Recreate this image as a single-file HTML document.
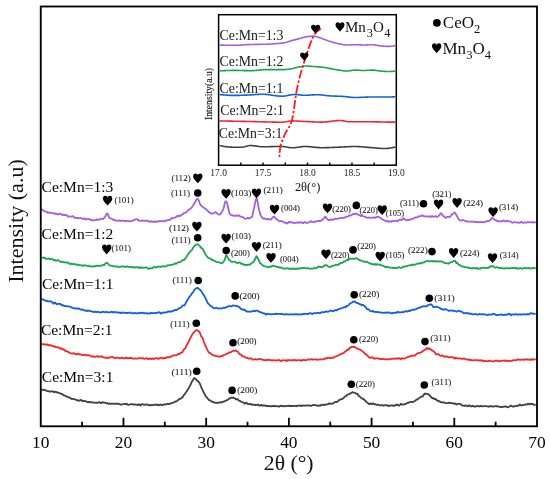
<!DOCTYPE html><html><head><meta charset="utf-8"><title>XRD patterns</title><style>html,body{margin:0;padding:0;background:#fff;overflow:hidden;}svg{display:block;}text{font-family:'Liberation Serif','Times New Roman',serif;}</style></head><body>
<svg width="550" height="479" viewBox="0 0 550 479">
<rect width="550" height="479" fill="#fff"/>
<polyline points="41.5,208.83 42.2,209.54 42.9,209.87 43.6,210.72 44.3,211.07 45.0,211.40 45.7,211.87 46.4,211.66 47.1,212.06 47.8,212.76 48.5,212.50 49.2,212.43 49.9,212.81 50.6,212.90 51.3,212.85 52.0,212.70 52.7,213.01 53.4,213.49 54.1,213.54 54.8,213.27 55.5,213.70 56.2,214.20 56.9,213.84 57.6,214.39 58.3,214.58 59.0,213.87 59.7,213.90 60.4,213.82 61.1,214.28 61.8,214.85 62.5,214.56 63.2,215.04 63.9,214.97 64.6,214.98 65.3,215.03 66.0,214.89 66.7,215.24 67.4,215.88 68.1,216.73 68.8,216.46 69.5,216.38 70.2,216.56 70.9,216.64 71.6,216.65 72.3,216.25 73.0,216.13 73.7,216.75 74.4,217.84 75.1,217.95 75.8,217.43 76.5,217.94 77.2,218.25 77.9,217.96 78.6,218.09 79.3,218.15 80.0,218.14 80.7,217.95 81.4,218.26 82.1,218.68 82.8,218.95 83.5,218.98 84.2,218.35 84.9,218.51 85.6,219.46 86.3,219.50 87.0,219.00 87.7,218.91 88.4,218.97 89.1,219.27 89.8,219.33 90.5,219.83 91.2,220.12 91.9,219.85 92.6,220.30 93.3,220.67 94.0,220.30 94.7,220.03 95.4,220.22 96.1,220.04 96.8,219.37 97.5,219.47 98.2,219.99 98.9,219.81 99.6,219.25 100.3,218.98 101.0,218.93 101.7,218.74 102.4,218.97 103.1,219.12 103.8,218.40 104.5,217.38 105.2,216.54 105.9,215.26 106.6,213.98 107.3,213.32 108.0,214.20 108.7,216.49 109.4,217.80 110.1,218.11 110.8,218.48 111.5,218.75 112.2,219.26 112.9,219.81 113.6,219.59 114.3,219.75 115.0,220.05 115.7,220.36 116.4,220.61 117.1,220.76 117.8,220.69 118.5,220.29 119.2,220.54 119.9,220.91 120.6,221.04 121.3,220.55 122.0,220.51 122.7,220.85 123.4,220.75 124.1,220.63 124.8,221.17 125.5,221.26 126.2,220.67 126.9,220.93 127.6,221.17 128.3,221.01 129.0,221.17 129.7,221.28 130.4,221.14 131.1,221.18 131.8,221.07 132.5,220.60 133.2,220.33 133.9,220.11 134.6,219.92 135.3,219.51 136.0,218.92 136.7,219.34 137.4,219.82 138.1,219.73 138.8,220.40 139.5,220.76 140.2,220.83 140.9,220.90 141.6,220.55 142.3,220.40 143.0,220.57 143.7,220.82 144.4,220.77 145.1,220.80 145.8,220.67 146.5,220.77 147.2,220.74 147.9,220.72 148.6,221.34 149.3,221.68 150.0,221.95 150.7,221.35 151.4,221.16 152.1,221.84 152.8,221.91 153.5,221.43 154.2,221.32 154.9,222.00 155.6,221.56 156.3,221.25 157.0,221.87 157.7,221.60 158.4,221.47 159.1,221.36 159.8,220.99 160.5,221.00 161.2,221.17 161.9,221.26 162.6,221.35 163.3,221.05 164.0,220.69 164.7,221.02 165.4,221.07 166.1,220.41 166.8,220.27 167.5,220.27 168.2,219.98 168.9,219.94 169.6,219.89 170.3,219.61 171.0,218.62 171.7,217.99 172.4,218.30 173.1,218.25 173.8,218.04 174.5,217.86 175.2,217.12 175.9,217.04 176.6,216.78 177.3,215.82 178.0,216.28 178.7,216.10 179.4,215.54 180.1,215.97 180.8,215.60 181.5,214.68 182.2,214.54 182.9,214.18 183.6,213.17 184.3,212.93 185.0,212.92 185.7,212.57 186.4,212.08 187.1,211.42 187.8,210.69 188.5,210.01 189.2,209.41 189.9,209.21 190.6,208.56 191.3,207.82 192.0,206.96 192.7,205.83 193.4,204.93 194.1,203.88 194.8,202.82 195.5,201.34 196.2,199.99 196.9,198.92 197.6,198.69 198.3,199.62 199.0,201.08 199.7,203.05 200.4,204.58 201.1,205.38 201.8,206.38 202.5,206.89 203.2,207.08 203.9,207.79 204.6,208.31 205.3,208.53 206.0,209.20 206.7,209.93 207.4,210.48 208.1,211.13 208.8,212.12 209.5,212.65 210.2,212.47 210.9,213.08 211.6,213.72 212.3,213.68 213.0,213.28 213.7,213.06 214.4,212.82 215.1,212.25 215.8,212.18 216.5,212.70 217.2,213.65 217.9,214.21 218.6,214.56 219.3,214.51 220.0,214.37 220.7,213.87 221.4,212.86 222.1,211.64 222.8,210.20 223.5,208.54 224.2,205.73 224.9,202.28 225.6,201.17 226.3,201.93 227.0,202.59 227.7,205.48 228.4,208.77 229.1,211.86 229.8,213.83 230.5,214.48 231.2,215.07 231.9,215.50 232.6,215.23 233.3,215.43 234.0,215.96 234.7,215.81 235.4,215.59 236.1,215.26 236.8,215.64 237.5,216.11 238.2,215.46 238.9,215.26 239.6,215.80 240.3,216.51 241.0,216.73 241.7,216.97 242.4,217.11 243.1,217.09 243.8,217.92 244.5,218.64 245.2,218.59 245.9,218.78 246.6,218.48 247.3,217.93 248.0,218.21 248.7,218.53 249.4,218.09 250.1,217.87 250.8,217.60 251.5,217.12 252.2,216.78 252.9,213.54 253.6,209.64 254.3,206.97 255.0,203.47 255.7,200.17 256.4,198.81 257.1,199.47 257.8,202.59 258.5,207.19 259.2,210.21 259.9,212.88 260.6,215.24 261.3,216.32 262.0,217.13 262.7,218.41 263.4,218.71 264.1,218.13 264.8,218.58 265.5,219.12 266.2,219.27 266.9,219.05 267.6,218.84 268.3,219.28 269.0,219.60 269.7,219.10 270.4,219.31 271.1,219.48 271.8,218.63 272.5,217.55 273.2,216.78 273.9,216.59 274.6,216.99 275.3,218.16 276.0,218.76 276.7,219.35 277.4,219.84 278.1,220.10 278.8,220.68 279.5,221.37 280.2,221.39 280.9,220.85 281.6,221.14 282.3,221.38 283.0,221.55 283.7,222.04 284.4,222.46 285.1,222.84 285.8,222.54 286.5,222.82 287.2,223.51 287.9,222.89 288.6,221.93 289.3,222.00 290.0,222.59 290.7,222.11 291.4,222.14 292.1,222.66 292.8,222.49 293.5,222.70 294.2,223.14 294.9,222.90 295.6,222.73 296.3,222.70 297.0,222.46 297.7,222.63 298.4,222.94 299.1,222.78 299.8,222.12 300.5,222.38 301.2,222.50 301.9,222.37 302.6,223.14 303.3,223.08 304.0,222.36 304.7,221.98 305.4,222.50 306.1,222.81 306.8,222.62 307.5,222.80 308.2,222.62 308.9,222.29 309.6,222.03 310.3,221.33 311.0,221.14 311.7,221.77 312.4,222.00 313.1,222.01 313.8,221.91 314.5,221.74 315.2,221.83 315.9,221.47 316.6,221.09 317.3,220.79 318.0,220.96 318.7,221.21 319.4,220.94 320.1,221.12 320.8,221.05 321.5,220.44 322.2,220.05 322.9,219.29 323.6,218.68 324.3,218.14 325.0,216.72 325.7,216.80 326.4,217.98 327.1,218.91 327.8,219.49 328.5,219.94 329.2,220.44 329.9,220.00 330.6,219.30 331.3,219.41 332.0,219.91 332.7,219.78 333.4,219.36 334.1,219.47 334.8,218.88 335.5,218.51 336.2,218.74 336.9,218.88 337.6,218.92 338.3,218.47 339.0,218.43 339.7,218.21 340.4,218.14 341.1,218.16 341.8,217.91 342.5,217.73 343.2,217.85 343.9,217.81 344.6,217.50 345.3,217.41 346.0,216.84 346.7,216.60 347.4,216.60 348.1,216.25 348.8,215.80 349.5,215.34 350.2,215.35 350.9,215.70 351.6,215.02 352.3,214.30 353.0,214.10 353.7,213.91 354.4,213.99 355.1,214.12 355.8,213.58 356.5,213.49 357.2,214.24 357.9,214.64 358.6,214.91 359.3,214.96 360.0,215.44 360.7,216.18 361.4,215.49 362.1,215.13 362.8,216.05 363.5,216.34 364.2,216.53 364.9,216.66 365.6,216.78 366.3,217.38 367.0,217.95 367.7,217.89 368.4,217.51 369.1,217.56 369.8,217.74 370.5,217.87 371.2,217.96 371.9,217.67 372.6,217.66 373.3,217.48 374.0,217.57 374.7,218.06 375.4,217.51 376.1,217.15 376.8,216.85 377.5,216.67 378.2,216.96 378.9,216.88 379.6,217.44 380.3,218.05 381.0,218.25 381.7,218.71 382.4,219.28 383.1,219.67 383.8,220.05 384.5,220.27 385.2,220.70 385.9,221.34 386.6,221.26 387.3,220.86 388.0,221.27 388.7,221.93 389.4,221.73 390.1,221.14 390.8,221.21 391.5,221.83 392.2,221.27 392.9,220.96 393.6,221.25 394.3,220.87 395.0,220.98 395.7,220.79 396.4,220.66 397.1,221.20 397.8,221.08 398.5,220.46 399.2,219.89 399.9,219.66 400.6,219.50 401.3,220.00 402.0,220.08 402.7,218.97 403.4,218.37 404.1,218.57 404.8,219.47 405.5,219.82 406.2,220.25 406.9,220.28 407.6,219.60 408.3,219.72 409.0,220.10 409.7,220.18 410.4,219.55 411.1,219.11 411.8,219.06 412.5,218.93 413.2,218.75 413.9,218.20 414.6,217.65 415.3,217.70 416.0,217.46 416.7,217.47 417.4,217.48 418.1,216.64 418.8,216.29 419.5,216.19 420.2,216.05 420.9,216.26 421.6,215.89 422.3,215.23 423.0,215.69 423.7,216.16 424.4,216.20 425.1,216.45 425.8,216.47 426.5,216.65 427.2,216.57 427.9,216.46 428.6,216.51 429.3,216.24 430.0,216.57 430.7,216.96 431.4,216.35 432.1,215.93 432.8,216.43 433.5,216.91 434.2,216.65 434.9,216.31 435.6,216.09 436.3,216.67 437.0,217.00 437.7,216.37 438.4,216.08 439.1,215.63 439.8,214.66 440.5,213.43 441.2,213.24 441.9,214.09 442.6,215.36 443.3,216.02 444.0,216.21 444.7,217.06 445.4,217.75 446.1,217.61 446.8,217.07 447.5,216.88 448.2,216.77 448.9,217.06 449.6,217.10 450.3,216.48 451.0,215.78 451.7,214.76 452.4,214.13 453.1,213.73 453.8,212.90 454.5,212.37 455.2,213.14 455.9,214.25 456.6,215.55 457.3,216.82 458.0,218.04 458.7,219.26 459.4,220.01 460.1,220.62 460.8,220.65 461.5,220.35 462.2,220.28 462.9,219.95 463.6,219.91 464.3,220.55 465.0,220.77 465.7,221.00 466.4,221.68 467.1,221.42 467.8,221.53 468.5,221.71 469.2,221.65 469.9,221.60 470.6,221.63 471.3,221.52 472.0,221.51 472.7,221.69 473.4,221.58 474.1,221.90 474.8,222.04 475.5,221.93 476.2,222.11 476.9,222.36 477.6,221.90 478.3,221.87 479.0,222.38 479.7,222.08 480.4,222.01 481.1,221.87 481.8,222.09 482.5,222.31 483.2,221.91 483.9,222.19 484.6,222.11 485.3,221.89 486.0,221.58 486.7,221.21 487.4,221.01 488.1,220.93 488.8,221.08 489.5,220.60 490.2,219.97 490.9,219.18 491.6,218.22 492.3,218.00 493.0,218.43 493.7,218.99 494.4,219.32 495.1,219.92 495.8,220.43 496.5,220.49 497.2,221.01 497.9,221.01 498.6,220.86 499.3,221.46 500.0,221.49 500.7,221.29 501.4,221.12 502.1,221.42 502.8,221.03 503.5,220.30 504.2,220.59 504.9,221.23 505.6,221.56 506.3,221.12 507.0,220.74 507.7,220.94 508.4,221.42 509.1,221.39 509.8,221.26 510.5,221.43 511.2,222.07 511.9,222.59 512.6,222.67 513.3,222.58 514.0,222.15 514.7,222.20 515.4,222.37 516.1,222.37 516.8,222.72 517.5,222.55 518.2,222.20 518.9,222.59 519.6,222.92 520.3,222.53 521.0,221.74 521.7,221.88 522.4,222.74 523.1,223.01 523.8,222.70 524.5,222.29 525.2,222.34 525.9,222.69 526.6,222.51 527.3,222.27 528.0,222.30 528.7,222.37 529.4,222.19 530.1,222.19 530.8,222.40 531.5,222.22 532.2,222.42 532.9,222.70 533.6,222.13 534.3,222.05 535.0,222.53 535.7,222.18" fill="none" stroke="#a35fe0" stroke-width="1.8" stroke-linejoin="round"/>
<polyline points="41.5,257.33 42.2,257.72 42.9,257.85 43.6,257.83 44.3,257.48 45.0,258.06 45.7,258.91 46.4,258.93 47.1,258.80 47.8,258.70 48.5,258.35 49.2,258.56 49.9,259.37 50.6,259.15 51.3,258.85 52.0,259.00 52.7,259.30 53.4,260.10 54.1,259.95 54.8,259.82 55.5,260.58 56.2,260.82 56.9,260.39 57.6,260.27 58.3,260.25 59.0,260.89 59.7,261.34 60.4,261.56 61.1,262.09 61.8,261.85 62.5,261.68 63.2,262.16 63.9,262.47 64.6,262.50 65.3,262.24 66.0,262.53 66.7,262.86 67.4,262.28 68.1,262.48 68.8,263.24 69.5,264.00 70.2,263.95 70.9,263.30 71.6,264.00 72.3,264.46 73.0,264.03 73.7,263.85 74.4,263.80 75.1,264.49 75.8,264.77 76.5,264.41 77.2,264.46 77.9,265.04 78.6,265.12 79.3,265.00 80.0,265.29 80.7,265.29 81.4,265.11 82.1,265.29 82.8,265.94 83.5,265.85 84.2,265.34 84.9,265.13 85.6,265.46 86.3,265.78 87.0,265.79 87.7,265.93 88.4,265.69 89.1,265.94 89.8,266.39 90.5,266.26 91.2,266.31 91.9,266.59 92.6,266.58 93.3,266.20 94.0,266.47 94.7,266.57 95.4,266.09 96.1,265.76 96.8,265.82 97.5,265.82 98.2,265.56 98.9,265.77 99.6,265.77 100.3,265.80 101.0,265.78 101.7,265.37 102.4,265.14 103.1,265.01 103.8,265.08 104.5,264.83 105.2,263.74 105.9,263.10 106.6,262.93 107.3,263.10 108.0,263.58 108.7,264.56 109.4,265.32 110.1,265.50 110.8,265.58 111.5,265.58 112.2,265.80 112.9,266.19 113.6,266.33 114.3,266.32 115.0,266.30 115.7,266.46 116.4,266.67 117.1,266.46 117.8,266.62 118.5,267.01 119.2,267.05 119.9,266.87 120.6,266.66 121.3,266.45 122.0,266.69 122.7,266.49 123.4,266.25 124.1,266.68 124.8,266.99 125.5,267.08 126.2,266.69 126.9,266.38 127.6,266.46 128.3,266.83 129.0,267.04 129.7,266.99 130.4,266.85 131.1,266.87 131.8,267.27 132.5,267.09 133.2,266.89 133.9,267.53 134.6,267.67 135.3,267.21 136.0,267.26 136.7,267.21 137.4,267.08 138.1,267.63 138.8,268.08 139.5,267.36 140.2,267.11 140.9,267.98 141.6,267.72 142.3,267.37 143.0,267.87 143.7,267.74 144.4,267.56 145.1,267.74 145.8,267.29 146.5,267.49 147.2,267.99 147.9,268.22 148.6,268.82 149.3,268.82 150.0,268.27 150.7,268.20 151.4,268.28 152.1,268.33 152.8,267.86 153.5,267.23 154.2,266.96 154.9,267.23 155.6,267.56 156.3,267.14 157.0,266.85 157.7,266.75 158.4,266.60 159.1,266.56 159.8,266.57 160.5,266.87 161.2,266.97 161.9,266.37 162.6,266.07 163.3,266.44 164.0,266.59 164.7,266.29 165.4,266.25 166.1,266.45 166.8,265.90 167.5,265.27 168.2,265.05 168.9,265.22 169.6,265.41 170.3,264.99 171.0,264.74 171.7,264.86 172.4,264.80 173.1,264.29 173.8,264.38 174.5,264.02 175.2,263.19 175.9,263.77 176.6,263.72 177.3,262.73 178.0,262.37 178.7,262.18 179.4,262.22 180.1,262.10 180.8,261.71 181.5,261.11 182.2,260.27 182.9,259.98 183.6,260.21 184.3,259.86 185.0,258.83 185.7,257.97 186.4,256.99 187.1,255.79 187.8,254.57 188.5,253.50 189.2,252.85 189.9,251.90 190.6,251.05 191.3,250.56 192.0,249.79 192.7,248.41 193.4,247.11 194.1,246.26 194.8,245.54 195.5,245.01 196.2,244.70 196.9,244.31 197.6,244.23 198.3,244.63 199.0,245.21 199.7,245.71 200.4,246.80 201.1,247.96 201.8,248.18 202.5,248.62 203.2,249.69 203.9,251.06 204.6,252.70 205.3,254.08 206.0,255.04 206.7,256.04 207.4,256.96 208.1,257.66 208.8,258.11 209.5,258.41 210.2,258.34 210.9,258.72 211.6,259.89 212.3,260.14 213.0,259.93 213.7,260.62 214.4,261.10 215.1,261.04 215.8,261.64 216.5,262.10 217.2,262.10 217.9,262.02 218.6,262.13 219.3,262.51 220.0,262.72 220.7,263.01 221.4,263.18 222.1,262.99 222.8,262.77 223.5,261.76 224.2,260.70 224.9,259.45 225.6,256.65 226.3,255.25 227.0,256.27 227.7,257.63 228.4,258.72 229.1,259.97 229.8,260.42 230.5,260.79 231.2,261.46 231.9,261.84 232.6,261.95 233.3,261.76 234.0,261.53 234.7,261.56 235.4,261.87 236.1,262.62 236.8,262.95 237.5,262.92 238.2,263.07 238.9,262.50 239.6,262.33 240.3,262.80 241.0,263.34 241.7,264.07 242.4,263.89 243.1,263.80 243.8,264.62 244.5,265.05 245.2,264.94 245.9,264.84 246.6,265.08 247.3,264.87 248.0,264.73 248.7,264.73 249.4,264.40 250.1,264.49 250.8,263.89 251.5,263.01 252.2,262.85 252.9,262.32 253.6,261.47 254.3,260.89 255.0,259.45 255.7,257.36 256.4,256.10 257.1,256.80 257.8,258.55 258.5,259.65 259.2,260.99 259.9,262.89 260.6,263.57 261.3,264.03 262.0,264.96 262.7,265.49 263.4,265.69 264.1,266.21 264.8,266.29 265.5,266.29 266.2,266.61 266.9,266.86 267.6,267.20 268.3,267.38 269.0,266.96 269.7,266.38 270.4,266.70 271.1,266.75 271.8,266.19 272.5,265.75 273.2,265.90 273.9,266.17 274.6,266.14 275.3,266.27 276.0,266.48 276.7,266.97 277.4,266.94 278.1,266.90 278.8,267.41 279.5,267.51 280.2,267.40 280.9,267.64 281.6,267.73 282.3,268.16 283.0,268.31 283.7,268.39 284.4,268.87 285.1,268.46 285.8,268.30 286.5,268.50 287.2,268.26 287.9,268.32 288.6,268.55 289.3,268.82 290.0,269.13 290.7,268.73 291.4,268.42 292.1,268.81 292.8,269.18 293.5,268.51 294.2,268.53 294.9,269.05 295.6,269.10 296.3,269.02 297.0,268.44 297.7,268.52 298.4,268.94 299.1,268.91 299.8,268.07 300.5,268.20 301.2,268.36 301.9,267.96 302.6,268.05 303.3,267.84 304.0,267.81 304.7,267.99 305.4,268.13 306.1,268.33 306.8,268.38 307.5,268.03 308.2,268.05 308.9,268.59 309.6,268.81 310.3,268.57 311.0,268.43 311.7,268.53 312.4,268.62 313.1,268.71 313.8,268.23 314.5,267.68 315.2,267.99 315.9,268.31 316.6,268.22 317.3,267.23 318.0,266.73 318.7,266.45 319.4,266.60 320.1,267.30 320.8,267.08 321.5,266.95 322.2,267.13 322.9,266.88 323.6,266.30 324.3,265.87 325.0,265.24 325.7,265.10 326.4,265.31 327.1,265.42 327.8,266.08 328.5,266.90 329.2,266.83 329.9,266.80 330.6,266.95 331.3,266.37 332.0,265.96 332.7,265.97 333.4,265.58 334.1,265.53 334.8,265.31 335.5,264.90 336.2,264.92 336.9,264.87 337.6,264.63 338.3,264.79 339.0,264.30 339.7,263.53 340.4,263.05 341.1,262.77 341.8,262.99 342.5,262.83 343.2,262.11 343.9,261.46 344.6,261.55 345.3,261.21 346.0,260.75 346.7,260.16 347.4,259.88 348.1,259.99 348.8,259.48 349.5,258.83 350.2,258.53 350.9,258.70 351.6,258.80 352.3,258.74 353.0,258.63 353.7,258.69 354.4,259.06 355.1,258.59 355.8,258.05 356.5,258.32 357.2,258.68 357.9,258.88 358.6,259.43 359.3,260.13 360.0,260.22 360.7,260.31 361.4,260.65 362.1,261.07 362.8,261.33 363.5,261.34 364.2,261.65 364.9,261.71 365.6,262.08 366.3,261.93 367.0,261.73 367.7,262.38 368.4,262.90 369.1,263.03 369.8,263.44 370.5,263.58 371.2,263.77 371.9,264.35 372.6,263.99 373.3,264.09 374.0,264.67 374.7,264.86 375.4,263.92 376.1,264.07 376.8,264.72 377.5,264.17 378.2,264.39 378.9,264.59 379.6,264.58 380.3,265.06 381.0,265.07 381.7,265.40 382.4,265.57 383.1,265.74 383.8,266.11 384.5,266.26 385.2,267.03 385.9,267.25 386.6,266.71 387.3,266.81 388.0,267.03 388.7,267.20 389.4,267.54 390.1,267.66 390.8,267.73 391.5,267.65 392.2,267.77 392.9,268.15 393.6,267.90 394.3,267.64 395.0,267.79 395.7,268.08 396.4,268.31 397.1,267.84 397.8,267.60 398.5,267.41 399.2,267.15 399.9,267.48 400.6,267.81 401.3,267.92 402.0,267.54 402.7,266.81 403.4,266.75 404.1,266.78 404.8,266.53 405.5,266.36 406.2,266.20 406.9,266.11 407.6,265.98 408.3,265.57 409.0,265.46 409.7,265.31 410.4,264.97 411.1,265.39 411.8,265.32 412.5,264.50 413.2,264.63 413.9,264.99 414.6,264.77 415.3,264.45 416.0,264.13 416.7,263.89 417.4,263.51 418.1,263.78 418.8,263.71 419.5,263.11 420.2,262.94 420.9,263.33 421.6,263.48 422.3,262.79 423.0,262.37 423.7,262.34 424.4,262.31 425.1,261.58 425.8,261.35 426.5,261.45 427.2,260.91 427.9,260.74 428.6,261.00 429.3,261.49 430.0,261.37 430.7,261.16 431.4,261.01 432.1,261.09 432.8,261.57 433.5,261.21 434.2,260.99 434.9,261.59 435.6,261.35 436.3,261.11 437.0,261.64 437.7,261.31 438.4,261.04 439.1,261.39 439.8,261.63 440.5,261.27 441.2,261.28 441.9,261.63 442.6,261.71 443.3,262.25 444.0,262.59 444.7,263.04 445.4,263.10 446.1,263.03 446.8,263.25 447.5,263.42 448.2,263.76 448.9,263.27 449.6,262.80 450.3,262.69 451.0,262.04 451.7,262.17 452.4,261.99 453.1,261.24 453.8,261.05 454.5,260.84 455.2,260.88 455.9,262.17 456.6,263.08 457.3,262.89 458.0,263.69 458.7,264.57 459.4,264.83 460.1,265.23 460.8,265.83 461.5,266.20 462.2,266.55 462.9,266.62 463.6,266.52 464.3,266.87 465.0,267.15 465.7,267.38 466.4,267.39 467.1,267.26 467.8,267.23 468.5,267.82 469.2,268.14 469.9,268.12 470.6,268.24 471.3,268.27 472.0,268.64 472.7,268.18 473.4,267.95 474.1,267.91 474.8,268.26 475.5,268.55 476.2,267.85 476.9,267.77 477.6,268.42 478.3,268.90 479.0,268.87 479.7,268.32 480.4,267.97 481.1,268.50 481.8,268.33 482.5,267.83 483.2,267.73 483.9,267.48 484.6,267.92 485.3,268.26 486.0,268.01 486.7,267.91 487.4,267.95 488.1,268.07 488.8,267.65 489.5,266.96 490.2,266.43 490.9,266.50 491.6,266.46 492.3,265.85 493.0,266.05 493.7,266.64 494.4,267.18 495.1,267.68 495.8,267.53 496.5,267.23 497.2,267.43 497.9,267.44 498.6,267.59 499.3,268.07 500.0,268.19 500.7,267.79 501.4,267.58 502.1,268.30 502.8,268.39 503.5,268.30 504.2,268.71 504.9,268.47 505.6,268.10 506.3,268.22 507.0,268.24 507.7,268.16 508.4,268.38 509.1,268.26 509.8,268.18 510.5,268.28 511.2,268.05 511.9,268.07 512.6,268.21 513.3,267.83 514.0,267.90 514.7,268.26 515.4,268.20 516.1,267.79 516.8,268.10 517.5,268.74 518.2,268.71 518.9,268.62 519.6,268.19 520.3,268.14 521.0,268.21 521.7,268.67 522.4,268.75 523.1,268.39 523.8,268.13 524.5,267.68 525.2,267.88 525.9,268.28 526.6,268.49 527.3,268.36 528.0,267.76 528.7,267.91 529.4,268.07 530.1,268.14 530.8,268.73 531.5,268.49 532.2,268.23 532.9,267.70 533.6,268.01 534.3,268.29 535.0,267.86 535.7,267.56" fill="none" stroke="#1aa650" stroke-width="1.8" stroke-linejoin="round"/>
<polyline points="41.5,299.50 42.2,299.21 42.9,299.35 43.6,299.78 44.3,300.07 45.0,300.55 45.7,300.78 46.4,300.72 47.1,300.81 47.8,301.38 48.5,301.44 49.2,301.45 49.9,301.35 50.6,301.11 51.3,301.81 52.0,302.17 52.7,302.94 53.4,303.75 54.1,303.00 54.8,302.45 55.5,302.97 56.2,303.80 56.9,304.30 57.6,304.22 58.3,303.89 59.0,303.85 59.7,303.79 60.4,303.84 61.1,304.69 61.8,305.36 62.5,305.16 63.2,305.17 63.9,305.94 64.6,306.10 65.3,305.83 66.0,306.06 66.7,306.37 67.4,306.39 68.1,306.29 68.8,306.31 69.5,306.58 70.2,306.69 70.9,307.09 71.6,307.54 72.3,307.64 73.0,308.04 73.7,308.30 74.4,308.34 75.1,308.26 75.8,308.10 76.5,308.70 77.2,308.78 77.9,308.34 78.6,308.49 79.3,308.85 80.0,309.31 80.7,309.66 81.4,309.69 82.1,309.26 82.8,309.53 83.5,310.26 84.2,310.34 84.9,310.24 85.6,310.50 86.3,310.98 87.0,310.98 87.7,310.51 88.4,310.54 89.1,310.94 89.8,310.80 90.5,311.12 91.2,311.45 91.9,311.49 92.6,311.78 93.3,311.68 94.0,312.05 94.7,312.04 95.4,311.59 96.1,311.81 96.8,312.17 97.5,312.14 98.2,311.78 98.9,311.95 99.6,312.32 100.3,312.64 101.0,312.49 101.7,312.11 102.4,312.06 103.1,311.71 103.8,311.87 104.5,312.39 105.2,312.18 105.9,311.87 106.6,311.86 107.3,312.31 108.0,312.45 108.7,312.30 109.4,312.28 110.1,312.19 110.8,312.27 111.5,311.77 112.2,311.95 112.9,312.59 113.6,312.15 114.3,312.02 115.0,312.40 115.7,312.23 116.4,312.30 117.1,312.14 117.8,312.27 118.5,312.96 119.2,312.66 119.9,312.42 120.6,313.02 121.3,313.08 122.0,312.69 122.7,312.49 123.4,312.67 124.1,312.86 124.8,312.98 125.5,312.70 126.2,312.82 126.9,313.08 127.6,313.01 128.3,312.96 129.0,312.56 129.7,312.62 130.4,312.71 131.1,312.77 131.8,313.13 132.5,313.45 133.2,313.37 133.9,313.04 134.6,312.91 135.3,313.17 136.0,313.52 136.7,313.33 137.4,313.07 138.1,312.99 138.8,313.07 139.5,313.44 140.2,312.78 140.9,312.63 141.6,313.14 142.3,312.58 143.0,312.77 143.7,313.24 144.4,313.25 145.1,312.97 145.8,313.34 146.5,313.64 147.2,313.10 147.9,313.39 148.6,313.59 149.3,313.42 150.0,313.51 150.7,312.87 151.4,312.96 152.1,313.30 152.8,312.98 153.5,313.23 154.2,312.99 154.9,312.83 155.6,313.12 156.3,313.02 157.0,312.93 157.7,312.56 158.4,312.17 159.1,312.24 159.8,312.54 160.5,313.56 161.2,313.50 161.9,312.63 162.6,312.52 163.3,312.71 164.0,312.83 164.7,312.32 165.4,312.32 166.1,312.50 166.8,312.38 167.5,311.88 168.2,311.29 168.9,311.75 169.6,311.60 170.3,311.45 171.0,311.74 171.7,311.46 172.4,311.20 173.1,310.93 173.8,310.64 174.5,310.18 175.2,309.76 175.9,310.18 176.6,310.15 177.3,309.38 178.0,308.94 178.7,308.37 179.4,308.04 180.1,307.81 180.8,307.61 181.5,307.07 182.2,305.90 182.9,305.42 183.6,305.44 184.3,305.39 185.0,304.67 185.7,303.00 186.4,301.70 187.1,300.60 187.8,299.48 188.5,298.38 189.2,297.00 189.9,296.22 190.6,295.53 191.3,294.34 192.0,293.34 192.7,292.75 193.4,291.64 194.1,290.18 194.8,289.61 195.5,288.69 196.2,288.13 196.9,288.10 197.6,287.85 198.3,288.29 199.0,289.19 199.7,289.43 200.4,289.91 201.1,291.14 201.8,291.83 202.5,293.17 203.2,294.45 203.9,295.16 204.6,296.42 205.3,297.84 206.0,299.40 206.7,300.73 207.4,302.23 208.1,303.60 208.8,304.08 209.5,304.74 210.2,305.77 210.9,306.24 211.6,306.28 212.3,306.88 213.0,307.74 213.7,308.20 214.4,308.26 215.1,308.33 215.8,307.95 216.5,307.97 217.2,308.05 217.9,308.28 218.6,308.63 219.3,308.40 220.0,308.45 220.7,308.49 221.4,308.40 222.1,308.35 222.8,308.10 223.5,307.59 224.2,307.59 224.9,307.94 225.6,307.81 226.3,307.18 227.0,306.84 227.7,306.57 228.4,306.34 229.1,306.13 229.8,305.91 230.5,306.30 231.2,306.31 231.9,306.11 232.6,305.76 233.3,305.30 234.0,305.48 234.7,305.79 235.4,305.81 236.1,305.98 236.8,305.99 237.5,306.16 238.2,306.72 238.9,306.73 239.6,307.33 240.3,308.22 241.0,308.89 241.7,309.20 242.4,309.39 243.1,309.96 243.8,309.64 244.5,309.43 245.2,310.34 245.9,310.98 246.6,311.41 247.3,311.69 248.0,311.36 248.7,311.51 249.4,311.69 250.1,311.59 250.8,311.61 251.5,311.66 252.2,311.36 252.9,310.92 253.6,310.62 254.3,311.20 255.0,311.35 255.7,310.64 256.4,310.57 257.1,310.65 257.8,310.93 258.5,311.39 259.2,311.77 259.9,311.98 260.6,312.10 261.3,312.30 262.0,312.94 262.7,313.24 263.4,313.38 264.1,313.30 264.8,313.64 265.5,314.32 266.2,314.53 266.9,313.89 267.6,313.62 268.3,314.18 269.0,314.19 269.7,314.08 270.4,314.11 271.1,314.39 271.8,314.35 272.5,314.14 273.2,314.09 273.9,314.06 274.6,314.12 275.3,314.05 276.0,313.61 276.7,314.06 277.4,314.11 278.1,313.79 278.8,313.89 279.5,313.85 280.2,313.92 280.9,313.98 281.6,314.01 282.3,313.75 283.0,314.01 283.7,314.59 284.4,314.61 285.1,314.37 285.8,314.09 286.5,314.07 287.2,314.41 287.9,314.31 288.6,314.43 289.3,314.58 290.0,314.48 290.7,314.40 291.4,314.24 292.1,314.40 292.8,314.60 293.5,314.63 294.2,314.34 294.9,314.11 295.6,314.31 296.3,314.06 297.0,314.27 297.7,314.71 298.4,314.47 299.1,314.22 299.8,314.35 300.5,314.40 301.2,314.59 301.9,314.69 302.6,313.91 303.3,313.94 304.0,314.09 304.7,313.77 305.4,313.78 306.1,313.81 306.8,313.86 307.5,314.00 308.2,313.99 308.9,313.63 309.6,313.19 310.3,313.12 311.0,313.44 311.7,313.74 312.4,313.99 313.1,313.47 313.8,313.04 314.5,313.22 315.2,313.06 315.9,313.07 316.6,313.04 317.3,312.88 318.0,312.73 318.7,312.80 319.4,313.09 320.1,313.28 320.8,312.86 321.5,312.20 322.2,312.17 322.9,312.13 323.6,312.32 324.3,312.21 325.0,311.87 325.7,311.61 326.4,311.37 327.1,311.56 327.8,311.84 328.5,311.55 329.2,311.24 329.9,310.90 330.6,310.51 331.3,310.74 332.0,310.83 332.7,311.01 333.4,311.12 334.1,310.52 334.8,310.30 335.5,310.19 336.2,310.23 336.9,310.28 337.6,309.66 338.3,309.30 339.0,309.00 339.7,308.80 340.4,308.41 341.1,308.32 341.8,308.27 342.5,308.02 343.2,307.68 343.9,307.38 344.6,306.95 345.3,307.26 346.0,306.96 346.7,305.77 347.4,305.78 348.1,305.76 348.8,304.98 349.5,303.94 350.2,303.37 350.9,303.06 351.6,302.69 352.3,302.21 353.0,301.96 353.7,301.80 354.4,301.40 355.1,301.57 355.8,302.33 356.5,302.99 357.2,303.13 357.9,302.95 358.6,303.40 359.3,304.12 360.0,304.10 360.7,304.47 361.4,305.26 362.1,305.14 362.8,304.83 363.5,305.19 364.2,305.91 364.9,306.63 365.6,306.86 366.3,307.83 367.0,309.38 367.7,309.42 368.4,309.18 369.1,309.79 369.8,310.58 370.5,311.15 371.2,311.43 371.9,311.30 372.6,310.91 373.3,311.22 374.0,311.96 374.7,311.91 375.4,311.90 376.1,312.11 376.8,312.09 377.5,311.88 378.2,312.10 378.9,312.12 379.6,312.43 380.3,312.62 381.0,312.50 381.7,312.61 382.4,312.65 383.1,312.82 383.8,312.90 384.5,312.82 385.2,312.40 385.9,312.53 386.6,312.82 387.3,312.57 388.0,312.50 388.7,312.45 389.4,312.61 390.1,312.87 390.8,312.83 391.5,313.44 392.2,313.44 392.9,312.92 393.6,312.99 394.3,312.84 395.0,312.53 395.7,312.71 396.4,313.01 397.1,312.15 397.8,311.85 398.5,312.35 399.2,312.22 399.9,312.50 400.6,312.44 401.3,312.29 402.0,312.22 402.7,311.87 403.4,312.05 404.1,311.89 404.8,311.60 405.5,311.42 406.2,311.14 406.9,311.39 407.6,311.56 408.3,310.99 409.0,310.44 409.7,311.05 410.4,310.97 411.1,310.04 411.8,310.09 412.5,309.90 413.2,309.51 413.9,309.66 414.6,309.74 415.3,309.29 416.0,309.13 416.7,308.90 417.4,308.31 418.1,308.09 418.8,307.82 419.5,307.68 420.2,307.56 420.9,307.04 421.6,306.80 422.3,306.65 423.0,306.31 423.7,306.23 424.4,306.42 425.1,306.36 425.8,306.26 426.5,306.37 427.2,305.91 427.9,305.24 428.6,304.83 429.3,304.67 430.0,304.42 430.7,304.52 431.4,304.49 432.1,305.09 432.8,306.38 433.5,307.22 434.2,307.28 434.9,306.94 435.6,306.73 436.3,306.75 437.0,307.04 437.7,307.21 438.4,307.47 439.1,307.59 439.8,307.98 440.5,308.62 441.2,309.01 441.9,309.11 442.6,309.35 443.3,309.76 444.0,309.35 444.7,309.19 445.4,309.37 446.1,309.33 446.8,309.74 447.5,310.03 448.2,310.40 448.9,310.95 449.6,310.82 450.3,310.43 451.0,310.40 451.7,310.52 452.4,310.75 453.1,310.67 453.8,310.74 454.5,310.91 455.2,311.08 455.9,311.50 456.6,311.72 457.3,311.48 458.0,310.92 458.7,310.71 459.4,311.09 460.1,311.32 460.8,311.23 461.5,311.67 462.2,312.02 462.9,312.46 463.6,313.29 464.3,313.28 465.0,313.10 465.7,312.94 466.4,313.04 467.1,313.36 467.8,313.21 468.5,313.07 469.2,313.76 469.9,313.91 470.6,313.40 471.3,313.82 472.0,314.20 472.7,314.30 473.4,314.30 474.1,314.07 474.8,314.24 475.5,314.50 476.2,314.05 476.9,314.38 477.6,314.64 478.3,314.52 479.0,314.31 479.7,313.87 480.4,314.08 481.1,314.20 481.8,314.56 482.5,314.37 483.2,314.21 483.9,314.35 484.6,314.44 485.3,314.71 486.0,314.49 486.7,314.93 487.4,315.04 488.1,314.80 488.8,314.53 489.5,314.27 490.2,314.58 490.9,314.63 491.6,314.54 492.3,314.34 493.0,313.75 493.7,313.80 494.4,314.27 495.1,314.34 495.8,314.72 496.5,315.24 497.2,315.17 497.9,314.92 498.6,314.94 499.3,314.88 500.0,314.87 500.7,314.66 501.4,314.46 502.1,314.59 502.8,315.05 503.5,315.14 504.2,315.10 504.9,314.66 505.6,314.37 506.3,314.74 507.0,314.79 507.7,314.41 508.4,313.91 509.1,313.75 509.8,314.06 510.5,315.01 511.2,315.14 511.9,314.37 512.6,314.39 513.3,314.57 514.0,314.52 514.7,314.47 515.4,314.14 516.1,314.10 516.8,314.50 517.5,314.66 518.2,314.74 518.9,314.42 519.6,314.35 520.3,314.56 521.0,314.35 521.7,314.57 522.4,314.47 523.1,314.22 523.8,314.35 524.5,314.40 525.2,314.41 525.9,314.51 526.6,314.42 527.3,314.01 528.0,314.39 528.7,314.44 529.4,313.96 530.1,313.76 530.8,313.17 531.5,313.11 532.2,313.55 532.9,313.78 533.6,313.72 534.3,313.72 535.0,313.87 535.7,313.86" fill="none" stroke="#1060e0" stroke-width="1.8" stroke-linejoin="round"/>
<polyline points="41.5,344.32 42.2,344.13 42.9,344.18 43.6,344.06 44.3,344.54 45.0,344.57 45.7,344.35 46.4,344.80 47.1,344.45 47.8,344.70 48.5,345.23 49.2,345.25 49.9,345.39 50.6,345.14 51.3,345.40 52.0,345.91 52.7,346.24 53.4,346.48 54.1,346.03 54.8,346.33 55.5,347.06 56.2,347.16 56.9,347.28 57.6,347.14 58.3,347.36 59.0,347.66 59.7,348.42 60.4,348.72 61.1,348.14 61.8,348.47 62.5,349.42 63.2,349.74 63.9,349.24 64.6,350.06 65.3,351.02 66.0,350.91 66.7,351.36 67.4,351.62 68.1,351.54 68.8,352.30 69.5,352.76 70.2,352.93 70.9,353.28 71.6,353.51 72.3,353.65 73.0,353.11 73.7,353.33 74.4,353.76 75.1,353.88 75.8,354.08 76.5,354.27 77.2,354.25 77.9,353.55 78.6,353.64 79.3,354.32 80.0,354.42 80.7,354.31 81.4,354.83 82.1,355.02 82.8,355.04 83.5,355.22 84.2,354.78 84.9,354.65 85.6,355.02 86.3,355.41 87.0,355.41 87.7,355.12 88.4,355.18 89.1,355.47 89.8,355.59 90.5,355.67 91.2,356.38 91.9,356.66 92.6,356.15 93.3,356.17 94.0,356.80 94.7,357.03 95.4,356.73 96.1,356.35 96.8,356.07 97.5,356.36 98.2,356.78 98.9,356.55 99.6,356.32 100.3,356.72 101.0,356.57 101.7,356.23 102.4,356.75 103.1,357.30 103.8,357.42 104.5,357.55 105.2,357.86 105.9,357.87 106.6,357.48 107.3,357.79 108.0,358.26 108.7,358.01 109.4,357.48 110.1,357.38 110.8,357.11 111.5,356.97 112.2,356.91 112.9,356.91 113.6,357.73 114.3,357.85 115.0,358.01 115.7,358.02 116.4,357.70 117.1,357.65 117.8,357.77 118.5,357.85 119.2,358.02 119.9,358.41 120.6,358.24 121.3,357.64 122.0,357.70 122.7,358.28 123.4,358.31 124.1,358.09 124.8,358.18 125.5,358.43 126.2,357.65 126.9,357.71 127.6,358.50 128.3,358.29 129.0,358.01 129.7,357.98 130.4,358.27 131.1,357.92 131.8,357.99 132.5,358.38 133.2,358.59 133.9,358.77 134.6,358.44 135.3,358.35 136.0,358.58 136.7,358.64 137.4,358.67 138.1,358.51 138.8,358.14 139.5,358.21 140.2,358.20 140.9,358.18 141.6,358.60 142.3,358.43 143.0,358.08 143.7,358.62 144.4,358.77 145.1,358.60 145.8,358.44 146.5,358.20 147.2,358.40 147.9,359.00 148.6,359.15 149.3,358.40 150.0,358.38 150.7,358.96 151.4,359.00 152.1,358.49 152.8,358.30 153.5,359.04 154.2,358.82 154.9,358.40 155.6,358.42 156.3,358.03 157.0,358.08 157.7,358.57 158.4,358.90 159.1,358.43 159.8,358.01 160.5,357.95 161.2,357.51 161.9,357.77 162.6,358.50 163.3,358.62 164.0,358.07 164.7,357.93 165.4,358.19 166.1,357.71 166.8,357.36 167.5,357.23 168.2,357.16 168.9,357.52 169.6,357.12 170.3,356.29 171.0,356.52 171.7,356.62 172.4,355.80 173.1,355.36 173.8,355.39 174.5,355.27 175.2,355.29 175.9,355.39 176.6,355.01 177.3,354.53 178.0,354.10 178.7,353.97 179.4,354.09 180.1,353.42 180.8,352.53 181.5,352.60 182.2,352.46 182.9,351.16 183.6,349.84 184.3,349.14 185.0,348.81 185.7,347.53 186.4,345.84 187.1,344.46 187.8,343.29 188.5,342.30 189.2,340.46 189.9,338.72 190.6,337.62 191.3,336.25 192.0,334.76 192.7,333.76 193.4,332.84 194.1,331.93 194.8,331.54 195.5,330.72 196.2,330.20 196.9,330.23 197.6,330.35 198.3,330.92 199.0,331.47 199.7,332.26 200.4,334.21 201.1,336.12 201.8,337.00 202.5,338.01 203.2,339.82 203.9,342.01 204.6,343.80 205.3,345.46 206.0,346.74 206.7,348.39 207.4,349.83 208.1,351.09 208.8,352.48 209.5,352.91 210.2,353.16 210.9,353.74 211.6,354.18 212.3,354.86 213.0,354.99 213.7,355.37 214.4,355.73 215.1,355.60 215.8,355.93 216.5,356.15 217.2,356.20 217.9,356.30 218.6,356.38 219.3,356.71 220.0,356.73 220.7,356.10 221.4,356.01 222.1,356.10 222.8,355.85 223.5,355.25 224.2,354.80 224.9,354.72 225.6,354.67 226.3,354.31 227.0,353.68 227.7,353.30 228.4,352.86 229.1,352.43 229.8,352.49 230.5,352.32 231.2,351.99 231.9,351.40 232.6,350.99 233.3,350.74 234.0,350.81 234.7,350.88 235.4,350.35 236.1,350.50 236.8,351.38 237.5,351.69 238.2,351.97 238.9,353.20 239.6,354.06 240.3,354.33 241.0,354.44 241.7,355.26 242.4,356.27 243.1,356.43 243.8,356.31 244.5,356.64 245.2,357.50 245.9,357.63 246.6,357.63 247.3,357.88 248.0,358.32 248.7,358.57 249.4,358.52 250.1,358.35 250.8,358.12 251.5,358.73 252.2,359.52 252.9,359.57 253.6,359.58 254.3,359.31 255.0,359.03 255.7,359.27 256.4,359.29 257.1,359.61 257.8,359.39 258.5,358.91 259.2,359.16 259.9,359.16 260.6,359.46 261.3,359.20 262.0,359.29 262.7,359.98 263.4,359.83 264.1,359.97 264.8,360.47 265.5,360.24 266.2,359.91 266.9,360.01 267.6,360.01 268.3,359.85 269.0,359.62 269.7,359.93 270.4,360.02 271.1,360.14 271.8,360.49 272.5,360.23 273.2,360.17 273.9,360.34 274.6,360.26 275.3,360.54 276.0,360.61 276.7,360.44 277.4,360.02 278.1,360.12 278.8,360.25 279.5,360.03 280.2,360.72 280.9,361.21 281.6,360.76 282.3,360.07 283.0,360.25 283.7,360.45 284.4,360.43 285.1,360.22 285.8,360.40 286.5,361.05 287.2,360.47 287.9,359.95 288.6,360.12 289.3,360.46 290.0,360.17 290.7,360.05 291.4,360.44 292.1,360.22 292.8,360.43 293.5,360.17 294.2,359.70 294.9,359.96 295.6,360.42 296.3,360.51 297.0,360.14 297.7,360.30 298.4,360.35 299.1,360.06 299.8,360.06 300.5,360.23 301.2,360.86 301.9,360.49 302.6,359.90 303.3,360.06 304.0,359.89 304.7,360.21 305.4,360.40 306.1,360.16 306.8,359.83 307.5,359.45 308.2,359.57 308.9,359.66 309.6,359.43 310.3,359.62 311.0,359.44 311.7,359.10 312.4,359.52 313.1,359.64 313.8,359.58 314.5,359.38 315.2,359.37 315.9,359.37 316.6,359.49 317.3,359.80 318.0,359.57 318.7,359.71 319.4,359.65 320.1,359.12 320.8,359.36 321.5,359.54 322.2,359.42 322.9,359.33 323.6,359.26 324.3,358.97 325.0,358.36 325.7,358.16 326.4,358.52 327.1,358.30 327.8,357.62 328.5,357.62 329.2,357.95 329.9,358.24 330.6,357.86 331.3,357.79 332.0,357.89 332.7,357.81 333.4,357.76 334.1,357.10 334.8,356.67 335.5,356.51 336.2,356.27 336.9,356.04 337.6,355.62 338.3,355.40 339.0,355.08 339.7,354.76 340.4,354.41 341.1,353.86 341.8,353.69 342.5,353.56 343.2,353.24 343.9,352.76 344.6,352.02 345.3,351.50 346.0,351.15 346.7,350.28 347.4,349.53 348.1,349.77 348.8,349.50 349.5,348.01 350.2,347.50 350.9,347.70 351.6,346.89 352.3,346.86 353.0,347.07 353.7,346.76 354.4,346.77 355.1,347.16 355.8,347.90 356.5,348.32 357.2,348.34 357.9,348.61 358.6,349.13 359.3,349.49 360.0,349.58 360.7,349.96 361.4,350.63 362.1,351.13 362.8,351.75 363.5,352.00 364.2,352.80 364.9,353.94 365.6,354.05 366.3,354.47 367.0,355.23 367.7,355.78 368.4,356.75 369.1,357.39 369.8,357.86 370.5,357.96 371.2,357.45 371.9,357.62 372.6,357.46 373.3,357.96 374.0,358.68 374.7,358.48 375.4,358.55 376.1,358.34 376.8,358.36 377.5,358.45 378.2,358.43 378.9,358.76 379.6,358.67 380.3,359.03 381.0,359.13 381.7,359.01 382.4,359.16 383.1,358.74 383.8,359.02 384.5,359.37 385.2,359.27 385.9,359.24 386.6,359.17 387.3,359.28 388.0,359.31 388.7,359.20 389.4,359.53 390.1,359.19 390.8,358.76 391.5,358.85 392.2,358.74 392.9,358.53 393.6,358.58 394.3,358.84 395.0,358.81 395.7,358.35 396.4,358.46 397.1,358.92 397.8,358.72 398.5,358.29 399.2,358.04 399.9,358.67 400.6,359.22 401.3,358.86 402.0,358.24 402.7,358.38 403.4,358.57 404.1,358.61 404.8,358.37 405.5,357.96 406.2,357.75 406.9,357.48 407.6,357.13 408.3,356.97 409.0,356.84 409.7,356.26 410.4,356.31 411.1,356.40 411.8,355.64 412.5,355.41 413.2,355.72 413.9,355.56 414.6,355.77 415.3,355.31 416.0,354.55 416.7,353.99 417.4,353.31 418.1,353.20 418.8,353.11 419.5,352.81 420.2,352.58 420.9,352.40 421.6,352.10 422.3,351.51 423.0,350.97 423.7,350.41 424.4,349.96 425.1,349.87 425.8,349.37 426.5,348.24 427.2,347.92 427.9,348.99 428.6,348.98 429.3,348.26 430.0,348.59 430.7,349.47 431.4,350.12 432.1,350.45 432.8,350.64 433.5,351.18 434.2,351.81 434.9,352.56 435.6,353.72 436.3,354.32 437.0,354.19 437.7,354.05 438.4,354.17 439.1,354.76 439.8,355.46 440.5,355.77 441.2,355.94 441.9,355.68 442.6,355.36 443.3,356.05 444.0,356.45 444.7,356.77 445.4,356.61 446.1,356.06 446.8,356.45 447.5,356.87 448.2,357.33 448.9,357.25 449.6,357.33 450.3,357.25 451.0,357.09 451.7,357.19 452.4,357.25 453.1,357.44 453.8,357.70 454.5,358.68 455.2,358.37 455.9,357.61 456.6,358.13 457.3,358.26 458.0,358.50 458.7,358.34 459.4,358.28 460.1,358.43 460.8,358.53 461.5,358.85 462.2,358.82 462.9,358.75 463.6,358.38 464.3,358.36 465.0,359.03 465.7,359.32 466.4,359.42 467.1,359.28 467.8,359.35 468.5,359.98 469.2,359.43 469.9,359.37 470.6,360.39 471.3,360.23 472.0,360.09 472.7,360.33 473.4,360.35 474.1,360.31 474.8,359.99 475.5,360.04 476.2,360.18 476.9,360.20 477.6,360.13 478.3,360.56 479.0,360.68 479.7,360.21 480.4,360.17 481.1,360.60 481.8,360.35 482.5,360.39 483.2,361.09 483.9,361.29 484.6,361.06 485.3,360.62 486.0,360.78 486.7,361.02 487.4,361.29 488.1,361.29 488.8,360.91 489.5,360.60 490.2,360.65 490.9,360.96 491.6,361.28 492.3,361.28 493.0,361.31 493.7,361.56 494.4,361.08 495.1,360.54 495.8,360.56 496.5,360.75 497.2,360.70 497.9,360.90 498.6,361.22 499.3,361.32 500.0,361.22 500.7,360.83 501.4,360.84 502.1,360.72 502.8,360.64 503.5,360.66 504.2,360.87 504.9,360.42 505.6,360.33 506.3,361.11 507.0,360.89 507.7,360.74 508.4,360.77 509.1,360.97 509.8,361.27 510.5,360.96 511.2,360.92 511.9,360.73 512.6,360.40 513.3,360.59 514.0,360.15 514.7,360.06 515.4,360.13 516.1,360.17 516.8,360.05 517.5,359.41 518.2,359.25 518.9,359.60 519.6,359.91 520.3,359.93 521.0,359.65 521.7,359.72 522.4,359.74 523.1,359.49 523.8,359.81 524.5,359.80 525.2,359.14 525.9,359.31 526.6,359.71 527.3,359.45 528.0,359.72 528.7,359.65 529.4,359.49 530.1,359.64 530.8,360.07 531.5,359.62 532.2,359.07 532.9,359.54 533.6,359.74 534.3,359.56 535.0,359.16 535.7,359.57" fill="none" stroke="#f0282e" stroke-width="1.8" stroke-linejoin="round"/>
<polyline points="41.5,389.49 42.2,389.71 42.9,389.94 43.6,390.11 44.3,389.97 45.0,389.90 45.7,390.34 46.4,390.62 47.1,391.02 47.8,391.25 48.5,391.27 49.2,391.29 49.9,391.58 50.6,391.59 51.3,391.42 52.0,391.34 52.7,391.24 53.4,391.88 54.1,392.21 54.8,391.71 55.5,391.83 56.2,392.31 56.9,392.19 57.6,392.45 58.3,392.79 59.0,392.88 59.7,393.34 60.4,393.43 61.1,393.74 61.8,394.14 62.5,394.19 63.2,394.92 63.9,395.46 64.6,395.48 65.3,395.76 66.0,396.28 66.7,396.34 67.4,396.76 68.1,397.41 68.8,397.29 69.5,397.39 70.2,398.18 70.9,398.40 71.6,398.95 72.3,399.22 73.0,398.98 73.7,398.82 74.4,398.91 75.1,399.51 75.8,399.77 76.5,400.05 77.2,399.99 77.9,400.55 78.6,400.91 79.3,400.38 80.0,400.38 80.7,400.00 81.4,399.89 82.1,400.91 82.8,401.01 83.5,400.85 84.2,400.82 84.9,401.06 85.6,401.45 86.3,401.40 87.0,401.72 87.7,402.24 88.4,402.38 89.1,401.79 89.8,401.87 90.5,402.49 91.2,402.29 91.9,402.00 92.6,402.28 93.3,402.66 94.0,402.78 94.7,402.70 95.4,402.72 96.1,402.92 96.8,402.76 97.5,402.73 98.2,402.60 98.9,402.12 99.6,402.22 100.3,402.77 101.0,403.39 101.7,402.75 102.4,402.07 103.1,402.40 103.8,402.64 104.5,402.72 105.2,402.76 105.9,403.27 106.6,403.16 107.3,403.02 108.0,403.64 108.7,403.95 109.4,403.32 110.1,403.68 110.8,403.97 111.5,403.65 112.2,403.79 112.9,403.68 113.6,403.67 114.3,403.95 115.0,403.96 115.7,403.57 116.4,403.64 117.1,403.95 117.8,403.65 118.5,403.85 119.2,404.16 119.9,404.17 120.6,404.66 121.3,404.58 122.0,404.41 122.7,404.26 123.4,404.00 124.1,403.69 124.8,403.82 125.5,404.13 126.2,403.66 126.9,403.86 127.6,404.75 128.3,404.79 129.0,404.73 129.7,404.60 130.4,404.12 131.1,404.21 131.8,404.38 132.5,404.13 133.2,404.45 133.9,404.76 134.6,404.39 135.3,404.41 136.0,404.54 136.7,404.65 137.4,405.06 138.1,404.79 138.8,404.18 139.5,404.64 140.2,405.46 140.9,405.03 141.6,404.30 142.3,404.18 143.0,404.40 143.7,404.71 144.4,404.67 145.1,404.85 145.8,404.74 146.5,404.44 147.2,404.36 147.9,404.82 148.6,405.37 149.3,405.37 150.0,404.96 150.7,404.98 151.4,405.25 152.1,405.13 152.8,405.21 153.5,405.00 154.2,404.84 154.9,404.58 155.6,404.50 156.3,404.81 157.0,404.68 157.7,404.75 158.4,405.30 159.1,405.15 159.8,404.61 160.5,404.49 161.2,404.70 161.9,405.22 162.6,405.15 163.3,404.69 164.0,404.30 164.7,404.28 165.4,404.62 166.1,404.36 166.8,404.09 167.5,403.88 168.2,403.90 168.9,404.19 169.6,403.96 170.3,403.64 171.0,403.45 171.7,403.08 172.4,402.75 173.1,402.58 173.8,402.40 174.5,402.00 175.2,401.70 175.9,401.43 176.6,401.15 177.3,400.81 178.0,400.09 178.7,399.60 179.4,398.94 180.1,398.91 180.8,398.71 181.5,397.75 182.2,397.67 182.9,396.74 183.6,395.31 184.3,394.61 185.0,393.66 185.7,392.64 186.4,391.72 187.1,390.71 187.8,389.50 188.5,388.35 189.2,387.10 189.9,385.82 190.6,384.80 191.3,382.94 192.0,381.42 192.7,380.58 193.4,379.20 194.1,378.09 194.8,378.42 195.5,378.95 196.2,379.54 196.9,380.46 197.6,380.96 198.3,381.51 199.0,382.31 199.7,383.36 200.4,384.80 201.1,386.77 201.8,388.40 202.5,389.92 203.2,391.50 203.9,392.76 204.6,393.95 205.3,395.49 206.0,396.60 206.7,397.49 207.4,398.22 208.1,398.95 208.8,399.98 209.5,400.30 210.2,400.32 210.9,400.83 211.6,401.55 212.3,401.74 213.0,401.80 213.7,402.34 214.4,402.67 215.1,402.53 215.8,402.85 216.5,402.98 217.2,402.61 217.9,402.75 218.6,402.74 219.3,402.63 220.0,402.42 220.7,402.13 221.4,402.39 222.1,402.25 222.8,401.90 223.5,401.68 224.2,401.49 224.9,401.11 225.6,400.69 226.3,400.28 227.0,400.27 227.7,399.77 228.4,399.18 229.1,398.72 229.8,398.16 230.5,398.24 231.2,397.59 231.9,397.66 232.6,397.83 233.3,397.51 234.0,398.09 234.7,398.32 235.4,398.77 236.1,399.48 236.8,399.04 237.5,399.00 238.2,399.82 238.9,400.58 239.6,400.88 240.3,401.00 241.0,401.74 241.7,402.01 242.4,402.23 243.1,402.39 243.8,402.77 244.5,403.60 245.2,403.33 245.9,402.68 246.6,402.74 247.3,403.64 248.0,404.04 248.7,404.19 249.4,404.14 250.1,403.80 250.8,404.16 251.5,404.69 252.2,404.76 252.9,404.37 253.6,404.57 254.3,404.89 255.0,405.00 255.7,405.01 256.4,404.83 257.1,404.93 257.8,404.58 258.5,404.69 259.2,405.57 259.9,405.68 260.6,405.25 261.3,404.83 262.0,405.38 262.7,405.65 263.4,405.35 264.1,405.55 264.8,405.50 265.5,405.49 266.2,405.99 266.9,405.90 267.6,406.03 268.3,406.26 269.0,405.93 269.7,406.09 270.4,406.26 271.1,406.31 271.8,406.26 272.5,405.92 273.2,406.19 273.9,406.31 274.6,405.78 275.3,406.03 276.0,406.38 276.7,406.19 277.4,406.08 278.1,406.22 278.8,406.64 279.5,406.50 280.2,405.79 280.9,405.68 281.6,406.08 282.3,406.16 283.0,405.90 283.7,406.10 284.4,406.41 285.1,406.21 285.8,406.11 286.5,406.01 287.2,405.81 287.9,405.88 288.6,405.71 289.3,405.86 290.0,406.14 290.7,405.96 291.4,406.00 292.1,406.14 292.8,405.95 293.5,405.79 294.2,405.78 294.9,406.20 295.6,406.00 296.3,405.68 297.0,406.22 297.7,405.98 298.4,405.57 299.1,405.57 299.8,405.35 300.5,405.81 301.2,406.12 301.9,405.58 302.6,405.46 303.3,405.71 304.0,405.74 304.7,405.47 305.4,405.62 306.1,405.58 306.8,405.35 307.5,405.55 308.2,405.45 308.9,405.39 309.6,405.38 310.3,405.93 311.0,405.95 311.7,405.48 312.4,405.35 313.1,404.91 313.8,405.04 314.5,405.18 315.2,405.10 315.9,405.13 316.6,405.37 317.3,405.76 318.0,405.98 318.7,405.52 319.4,405.44 320.1,405.76 320.8,405.17 321.5,404.63 322.2,404.69 322.9,405.18 323.6,405.12 324.3,404.57 325.0,404.84 325.7,404.78 326.4,404.37 327.1,404.46 327.8,404.44 328.5,403.67 329.2,403.25 329.9,403.83 330.6,403.67 331.3,403.66 332.0,403.82 332.7,403.45 333.4,403.32 334.1,402.62 334.8,402.12 335.5,401.98 336.2,401.86 336.9,402.08 337.6,401.61 338.3,400.91 339.0,400.15 339.7,399.67 340.4,399.66 341.1,399.27 341.8,399.01 342.5,398.90 343.2,398.29 343.9,397.59 344.6,396.77 345.3,396.34 346.0,396.18 346.7,395.15 347.4,394.72 348.1,394.50 348.8,394.22 349.5,394.02 350.2,393.35 350.9,393.20 351.6,392.82 352.3,392.21 353.0,392.28 353.7,392.53 354.4,392.59 355.1,393.01 355.8,393.63 356.5,393.73 357.2,393.68 357.9,394.53 358.6,395.70 359.3,396.19 360.0,396.70 360.7,397.48 361.4,397.90 362.1,398.45 362.8,398.95 363.5,399.02 364.2,399.67 364.9,400.38 365.6,401.02 366.3,401.99 367.0,402.46 367.7,402.76 368.4,403.54 369.1,404.03 369.8,403.80 370.5,403.45 371.2,404.08 371.9,404.16 372.6,403.42 373.3,403.35 374.0,404.14 374.7,404.36 375.4,404.14 376.1,404.53 376.8,404.95 377.5,404.75 378.2,404.55 378.9,405.00 379.6,405.37 380.3,405.32 381.0,405.14 381.7,405.19 382.4,405.43 383.1,405.76 383.8,405.47 384.5,405.43 385.2,405.21 385.9,405.13 386.6,405.28 387.3,405.18 388.0,405.61 388.7,406.18 389.4,405.98 390.1,405.45 390.8,405.31 391.5,405.48 392.2,405.49 392.9,405.51 393.6,405.85 394.3,405.74 395.0,405.26 395.7,405.25 396.4,405.13 397.1,404.52 397.8,404.89 398.5,405.66 399.2,405.65 399.9,405.09 400.6,403.97 401.3,403.82 402.0,404.64 402.7,404.62 403.4,404.69 404.1,404.48 404.8,404.15 405.5,404.18 406.2,403.80 406.9,403.08 407.6,402.74 408.3,402.89 409.0,402.64 409.7,402.11 410.4,401.93 411.1,401.85 411.8,401.87 412.5,402.12 413.2,401.92 413.9,401.55 414.6,401.17 415.3,400.79 416.0,399.96 416.7,399.45 417.4,399.57 418.1,398.90 418.8,398.35 419.5,397.65 420.2,397.07 420.9,396.96 421.6,396.65 422.3,396.32 423.0,396.29 423.7,395.06 424.4,393.61 425.1,393.62 425.8,393.74 426.5,393.85 427.2,393.96 427.9,394.13 428.6,394.38 429.3,394.93 430.0,396.02 430.7,396.52 431.4,397.31 432.1,398.23 432.8,398.00 433.5,398.39 434.2,399.12 434.9,399.08 435.6,398.89 436.3,399.88 437.0,400.41 437.7,400.66 438.4,401.40 439.1,401.15 439.8,401.38 440.5,402.05 441.2,402.34 441.9,402.33 442.6,402.26 443.3,402.45 444.0,402.39 444.7,402.76 445.4,403.11 446.1,403.16 446.8,403.10 447.5,403.08 448.2,402.86 448.9,402.54 449.6,403.06 450.3,403.24 451.0,403.03 451.7,403.22 452.4,403.06 453.1,403.18 453.8,403.76 454.5,403.76 455.2,403.52 455.9,404.11 456.6,404.58 457.3,404.07 458.0,403.97 458.7,403.96 459.4,403.85 460.1,403.94 460.8,404.30 461.5,404.99 462.2,405.51 462.9,405.53 463.6,405.73 464.3,406.00 465.0,405.59 465.7,405.33 466.4,405.70 467.1,406.08 467.8,406.30 468.5,405.87 469.2,405.22 469.9,406.01 470.6,406.41 471.3,406.20 472.0,406.29 472.7,405.77 473.4,406.09 474.1,406.52 474.8,406.55 475.5,406.59 476.2,406.04 476.9,405.91 477.6,406.37 478.3,406.23 479.0,406.05 479.7,406.48 480.4,406.16 481.1,405.82 481.8,406.15 482.5,406.46 483.2,406.40 483.9,406.03 484.6,406.18 485.3,406.22 486.0,406.19 486.7,406.42 487.4,406.29 488.1,406.41 488.8,406.73 489.5,406.25 490.2,406.11 490.9,406.38 491.6,406.21 492.3,406.28 493.0,406.63 493.7,406.60 494.4,406.28 495.1,406.04 495.8,406.10 496.5,406.40 497.2,406.24 497.9,406.19 498.6,406.54 499.3,406.93 500.0,406.78 500.7,406.93 501.4,407.23 502.1,406.99 502.8,406.91 503.5,406.75 504.2,406.48 504.9,406.45 505.6,406.60 506.3,406.63 507.0,406.93 507.7,407.29 508.4,407.01 509.1,406.72 509.8,406.37 510.5,405.62 511.2,405.67 511.9,406.09 512.6,406.35 513.3,406.76 514.0,406.42 514.7,406.10 515.4,406.22 516.1,405.91 516.8,405.78 517.5,405.75 518.2,405.84 518.9,405.45 519.6,404.51 520.3,404.71 521.0,405.37 521.7,405.50 522.4,405.10 523.1,404.91 523.8,404.82 524.5,404.78 525.2,404.69 525.9,404.22 526.6,404.51 527.3,404.37 528.0,403.74 528.7,404.12 529.4,404.40 530.1,403.66 530.8,403.87 531.5,404.12 532.2,403.79 532.9,404.10 533.6,404.73 534.3,404.85 535.0,404.72 535.7,404.84" fill="none" stroke="#404040" stroke-width="1.8" stroke-linejoin="round"/>
<rect x="40.75" y="6.5" width="496.25" height="419.8" fill="none" stroke="#000" stroke-width="1.85"/>
<line x1="82.11" y1="421.7" x2="82.11" y2="426.3" stroke="#000" stroke-width="1.8"/>
<line x1="123.46" y1="417.8" x2="123.46" y2="426.3" stroke="#000" stroke-width="1.8"/>
<line x1="164.81" y1="421.7" x2="164.81" y2="426.3" stroke="#000" stroke-width="1.8"/>
<line x1="206.17" y1="417.8" x2="206.17" y2="426.3" stroke="#000" stroke-width="1.8"/>
<line x1="247.53" y1="421.7" x2="247.53" y2="426.3" stroke="#000" stroke-width="1.8"/>
<line x1="288.88" y1="417.8" x2="288.88" y2="426.3" stroke="#000" stroke-width="1.8"/>
<line x1="330.24" y1="421.7" x2="330.24" y2="426.3" stroke="#000" stroke-width="1.8"/>
<line x1="371.59" y1="417.8" x2="371.59" y2="426.3" stroke="#000" stroke-width="1.8"/>
<line x1="412.95" y1="421.7" x2="412.95" y2="426.3" stroke="#000" stroke-width="1.8"/>
<line x1="454.30" y1="417.8" x2="454.30" y2="426.3" stroke="#000" stroke-width="1.8"/>
<line x1="495.66" y1="421.7" x2="495.66" y2="426.3" stroke="#000" stroke-width="1.8"/>
<text x="40.75" y="448.4" font-size="17.4" text-anchor="middle" fill="#000">10</text>
<text x="123.46" y="448.4" font-size="17.4" text-anchor="middle" fill="#000">20</text>
<text x="206.17" y="448.4" font-size="17.4" text-anchor="middle" fill="#000">30</text>
<text x="288.88" y="448.4" font-size="17.4" text-anchor="middle" fill="#000">40</text>
<text x="371.59" y="448.4" font-size="17.4" text-anchor="middle" fill="#000">50</text>
<text x="454.30" y="448.4" font-size="17.4" text-anchor="middle" fill="#000">60</text>
<text x="537.01" y="448.4" font-size="17.4" text-anchor="middle" fill="#000">70</text>
<text x="263.8" y="470.3" font-size="21" textLength="49.8" lengthAdjust="spacingAndGlyphs" fill="#111">2θ (°)</text>
<text transform="translate(23,221) rotate(-90)" x="0" y="0" font-size="22" text-anchor="middle" fill="#111">Intensity (a.u)</text>
<circle cx="436.90" cy="22.80" r="3.9" fill="#000"/>
<text x="442.8" y="27.8" font-size="17" fill="#111">CeO<tspan font-size="12.5" dy="5">2</tspan></text>
<path d="M436.70,53.30 C435.20,51.10 432.28,49.10 432.00,46.60 C431.81,44.30 433.13,43.30 434.35,43.30 C435.76,43.30 436.70,44.20 436.70,45.30 C436.70,44.20 437.64,43.30 439.05,43.30 C440.27,43.30 441.59,44.30 441.40,46.60 C441.12,49.10 438.20,51.10 436.70,53.30Z" fill="#000"/>
<text x="442.5" y="53.8" font-size="17" fill="#111">Mn<tspan font-size="12.5" dy="5.2">3</tspan><tspan dy="-5.2">O</tspan><tspan font-size="12.5" dy="5.2">4</tspan></text>
<text x="41.6" y="192" font-size="15.5" fill="#000">Ce:Mn=1:3</text>
<text x="41.6" y="239.3" font-size="15.5" fill="#000">Ce:Mn=1:2</text>
<text x="41.9" y="288.9" font-size="15.5" fill="#000">Ce:Mn=1:1</text>
<text x="40.9" y="334.6" font-size="15.5" fill="#000">Ce:Mn=2:1</text>
<text x="41.8" y="381.6" font-size="15.5" fill="#000">Ce:Mn=3:1</text>
<text x="114.5" y="203.0" font-size="8.8" textLength="19.1" lengthAdjust="spacingAndGlyphs" fill="#1a1a1a" stroke="#1a1a1a" stroke-width="0.08">(101)</text>
<text x="171.4" y="181.1" font-size="8.8" textLength="19.3" lengthAdjust="spacingAndGlyphs" fill="#1a1a1a" stroke="#1a1a1a" stroke-width="0.08">(112)</text>
<text x="171.0" y="196.4" font-size="8.8" textLength="19.0" lengthAdjust="spacingAndGlyphs" fill="#1a1a1a" stroke="#1a1a1a" stroke-width="0.08">(111)</text>
<text x="230.9" y="195.9" font-size="8.8" textLength="20.5" lengthAdjust="spacingAndGlyphs" fill="#1a1a1a" stroke="#1a1a1a" stroke-width="0.08">(103)</text>
<text x="263.4" y="193.0" font-size="8.8" textLength="19.3" lengthAdjust="spacingAndGlyphs" fill="#1a1a1a" stroke="#1a1a1a" stroke-width="0.08">(211)</text>
<text x="281.0" y="211.1" font-size="8.8" textLength="19.0" lengthAdjust="spacingAndGlyphs" fill="#1a1a1a" stroke="#1a1a1a" stroke-width="0.08">(004)</text>
<text x="332.3" y="211.8" font-size="8.8" textLength="18.7" lengthAdjust="spacingAndGlyphs" fill="#1a1a1a" stroke="#1a1a1a" stroke-width="0.08">(220)</text>
<text x="359.5" y="213.0" font-size="8.8" textLength="18.2" lengthAdjust="spacingAndGlyphs" fill="#1a1a1a" stroke="#1a1a1a" stroke-width="0.08">(220)</text>
<text x="385.7" y="215.7" font-size="8.8" textLength="18.3" lengthAdjust="spacingAndGlyphs" fill="#1a1a1a" stroke="#1a1a1a" stroke-width="0.08">(105)</text>
<text x="400.0" y="206.2" font-size="8.8" textLength="19.0" lengthAdjust="spacingAndGlyphs" fill="#1a1a1a" stroke="#1a1a1a" stroke-width="0.08">(311)</text>
<text x="432.2" y="196.8" font-size="8.8" textLength="19.2" lengthAdjust="spacingAndGlyphs" fill="#1a1a1a" stroke="#1a1a1a" stroke-width="0.08">(321)</text>
<text x="463.3" y="206.2" font-size="8.8" textLength="19.7" lengthAdjust="spacingAndGlyphs" fill="#1a1a1a" stroke="#1a1a1a" stroke-width="0.08">(224)</text>
<text x="498.9" y="209.9" font-size="8.8" textLength="19.2" lengthAdjust="spacingAndGlyphs" fill="#1a1a1a" stroke="#1a1a1a" stroke-width="0.08">(314)</text>
<text x="111.6" y="251.4" font-size="8.8" textLength="19.3" lengthAdjust="spacingAndGlyphs" fill="#1a1a1a" stroke="#1a1a1a" stroke-width="0.08">(101)</text>
<text x="169.0" y="231.1" font-size="8.8" textLength="20.0" lengthAdjust="spacingAndGlyphs" fill="#1a1a1a" stroke="#1a1a1a" stroke-width="0.08">(112)</text>
<text x="171.4" y="242.5" font-size="8.8" textLength="19.3" lengthAdjust="spacingAndGlyphs" fill="#1a1a1a" stroke="#1a1a1a" stroke-width="0.08">(111)</text>
<text x="231.6" y="238.9" font-size="8.8" textLength="19.4" lengthAdjust="spacingAndGlyphs" fill="#1a1a1a" stroke="#1a1a1a" stroke-width="0.08">(103)</text>
<text x="231.0" y="256.1" font-size="8.8" textLength="18.8" lengthAdjust="spacingAndGlyphs" fill="#1a1a1a" stroke="#1a1a1a" stroke-width="0.08">(200)</text>
<text x="262.7" y="248.0" font-size="8.8" textLength="18.9" lengthAdjust="spacingAndGlyphs" fill="#1a1a1a" stroke="#1a1a1a" stroke-width="0.08">(211)</text>
<text x="280.0" y="261.6" font-size="8.8" textLength="18.6" lengthAdjust="spacingAndGlyphs" fill="#1a1a1a" stroke="#1a1a1a" stroke-width="0.08">(004)</text>
<text x="331.0" y="257.7" font-size="8.8" textLength="18.3" lengthAdjust="spacingAndGlyphs" fill="#1a1a1a" stroke="#1a1a1a" stroke-width="0.08">(220)</text>
<text x="357.3" y="249.3" font-size="8.8" textLength="18.7" lengthAdjust="spacingAndGlyphs" fill="#1a1a1a" stroke="#1a1a1a" stroke-width="0.08">(220)</text>
<text x="385.7" y="258.4" font-size="8.8" textLength="18.8" lengthAdjust="spacingAndGlyphs" fill="#1a1a1a" stroke="#1a1a1a" stroke-width="0.08">(105)</text>
<text x="407.9" y="252.8" font-size="8.8" textLength="19.8" lengthAdjust="spacingAndGlyphs" fill="#1a1a1a" stroke="#1a1a1a" stroke-width="0.08">(222)</text>
<text x="460.1" y="256.2" font-size="8.8" textLength="19.5" lengthAdjust="spacingAndGlyphs" fill="#1a1a1a" stroke="#1a1a1a" stroke-width="0.08">(224)</text>
<text x="499.7" y="258.1" font-size="8.8" textLength="18.9" lengthAdjust="spacingAndGlyphs" fill="#1a1a1a" stroke="#1a1a1a" stroke-width="0.08">(314)</text>
<text x="172.5" y="283.0" font-size="8.8" textLength="19.3" lengthAdjust="spacingAndGlyphs" fill="#1a1a1a" stroke="#1a1a1a" stroke-width="0.08">(111)</text>
<text x="239.5" y="299.3" font-size="8.8" textLength="20.0" lengthAdjust="spacingAndGlyphs" fill="#1a1a1a" stroke="#1a1a1a" stroke-width="0.08">(200)</text>
<text x="359.0" y="297.0" font-size="8.8" textLength="20.3" lengthAdjust="spacingAndGlyphs" fill="#1a1a1a" stroke="#1a1a1a" stroke-width="0.08">(220)</text>
<text x="434.3" y="300.5" font-size="8.8" textLength="20.5" lengthAdjust="spacingAndGlyphs" fill="#1a1a1a" stroke="#1a1a1a" stroke-width="0.08">(311)</text>
<text x="170.2" y="327.3" font-size="8.8" textLength="19.3" lengthAdjust="spacingAndGlyphs" fill="#1a1a1a" stroke="#1a1a1a" stroke-width="0.08">(111)</text>
<text x="237.3" y="344.3" font-size="8.8" textLength="19.3" lengthAdjust="spacingAndGlyphs" fill="#1a1a1a" stroke="#1a1a1a" stroke-width="0.08">(200)</text>
<text x="358.9" y="342.0" font-size="8.8" textLength="19.3" lengthAdjust="spacingAndGlyphs" fill="#1a1a1a" stroke="#1a1a1a" stroke-width="0.08">(220)</text>
<text x="430.3" y="341.0" font-size="8.8" textLength="20.3" lengthAdjust="spacingAndGlyphs" fill="#1a1a1a" stroke="#1a1a1a" stroke-width="0.08">(311)</text>
<text x="171.4" y="374.5" font-size="8.8" textLength="20.4" lengthAdjust="spacingAndGlyphs" fill="#1a1a1a" stroke="#1a1a1a" stroke-width="0.08">(111)</text>
<text x="237.3" y="393.4" font-size="8.8" textLength="20.0" lengthAdjust="spacingAndGlyphs" fill="#1a1a1a" stroke="#1a1a1a" stroke-width="0.08">(200)</text>
<text x="355.7" y="387.0" font-size="8.8" textLength="19.3" lengthAdjust="spacingAndGlyphs" fill="#1a1a1a" stroke="#1a1a1a" stroke-width="0.08">(220)</text>
<text x="431.6" y="384.7" font-size="8.8" textLength="19.8" lengthAdjust="spacingAndGlyphs" fill="#1a1a1a" stroke="#1a1a1a" stroke-width="0.08">(311)</text>
<path d="M107.60,205.60 C106.10,203.44 103.18,201.48 102.90,199.03 C102.71,196.78 104.03,195.80 105.25,195.80 C106.66,195.80 107.60,196.68 107.60,197.76 C107.60,196.68 108.54,195.80 109.95,195.80 C111.17,195.80 112.49,196.78 112.30,199.03 C112.02,201.48 109.10,203.44 107.60,205.60Z" fill="#000"/>
<path d="M197.80,183.20 C196.30,181.04 193.38,179.08 193.10,176.63 C192.91,174.38 194.23,173.40 195.45,173.40 C196.86,173.40 197.80,174.28 197.80,175.36 C197.80,174.28 198.74,173.40 200.15,173.40 C201.37,173.40 202.69,174.38 202.50,176.63 C202.22,179.08 199.30,181.04 197.80,183.20Z" fill="#000"/>
<path d="M226.10,198.70 C224.60,196.54 221.68,194.58 221.40,192.13 C221.21,189.88 222.53,188.90 223.75,188.90 C225.16,188.90 226.10,189.78 226.10,190.86 C226.10,189.78 227.04,188.90 228.45,188.90 C229.67,188.90 230.99,189.88 230.80,192.13 C230.52,194.58 227.60,196.54 226.10,198.70Z" fill="#000"/>
<path d="M256.50,198.40 C255.00,196.24 252.08,194.28 251.80,191.83 C251.61,189.58 252.93,188.60 254.15,188.60 C255.56,188.60 256.50,189.48 256.50,190.56 C256.50,189.48 257.44,188.60 258.85,188.60 C260.07,188.60 261.39,189.58 261.20,191.83 C260.92,194.28 258.00,196.24 256.50,198.40Z" fill="#000"/>
<path d="M274.50,214.60 C273.00,212.44 270.08,210.48 269.80,208.03 C269.61,205.78 270.93,204.80 272.15,204.80 C273.56,204.80 274.50,205.68 274.50,206.76 C274.50,205.68 275.44,204.80 276.85,204.80 C278.07,204.80 279.39,205.78 279.20,208.03 C278.92,210.48 276.00,212.44 274.50,214.60Z" fill="#000"/>
<path d="M327.50,213.30 C326.00,211.14 323.08,209.18 322.80,206.73 C322.61,204.48 323.93,203.50 325.15,203.50 C326.56,203.50 327.50,204.38 327.50,205.46 C327.50,204.38 328.44,203.50 329.85,203.50 C331.07,203.50 332.39,204.48 332.20,206.73 C331.92,209.18 329.00,211.14 327.50,213.30Z" fill="#000"/>
<path d="M382.20,215.00 C380.70,212.84 377.78,210.88 377.50,208.43 C377.31,206.18 378.63,205.20 379.85,205.20 C381.26,205.20 382.20,206.08 382.20,207.16 C382.20,206.08 383.14,205.20 384.55,205.20 C385.77,205.20 387.09,206.18 386.90,208.43 C386.62,210.88 383.70,212.84 382.20,215.00Z" fill="#000"/>
<path d="M438.60,209.40 C437.10,207.24 434.18,205.28 433.90,202.83 C433.71,200.58 435.03,199.60 436.25,199.60 C437.66,199.60 438.60,200.48 438.60,201.56 C438.60,200.48 439.54,199.60 440.95,199.60 C442.17,199.60 443.49,200.58 443.30,202.83 C443.02,205.28 440.10,207.24 438.60,209.40Z" fill="#000"/>
<path d="M457.10,207.90 C455.60,205.74 452.68,203.78 452.40,201.33 C452.21,199.08 453.53,198.10 454.75,198.10 C456.16,198.10 457.10,198.98 457.10,200.06 C457.10,198.98 458.04,198.10 459.45,198.10 C460.67,198.10 461.99,199.08 461.80,201.33 C461.52,203.78 458.60,205.74 457.10,207.90Z" fill="#000"/>
<path d="M493.10,217.10 C491.60,214.94 488.68,212.98 488.40,210.53 C488.21,208.28 489.53,207.30 490.75,207.30 C492.16,207.30 493.10,208.18 493.10,209.26 C493.10,208.18 494.04,207.30 495.45,207.30 C496.67,207.30 497.99,208.28 497.80,210.53 C497.52,212.98 494.60,214.94 493.10,217.10Z" fill="#000"/>
<path d="M106.70,254.40 C105.20,252.24 102.28,250.28 102.00,247.83 C101.81,245.58 103.13,244.60 104.35,244.60 C105.76,244.60 106.70,245.48 106.70,246.56 C106.70,245.48 107.64,244.60 109.05,244.60 C110.27,244.60 111.59,245.58 111.40,247.83 C111.12,250.28 108.20,252.24 106.70,254.40Z" fill="#000"/>
<path d="M196.90,231.50 C195.40,229.34 192.48,227.38 192.20,224.93 C192.01,222.68 193.33,221.70 194.55,221.70 C195.96,221.70 196.90,222.58 196.90,223.66 C196.90,222.58 197.84,221.70 199.25,221.70 C200.47,221.70 201.79,222.68 201.60,224.93 C201.32,227.38 198.40,229.34 196.90,231.50Z" fill="#000"/>
<path d="M226.10,243.50 C224.60,241.34 221.68,239.38 221.40,236.93 C221.21,234.68 222.53,233.70 223.75,233.70 C225.16,233.70 226.10,234.58 226.10,235.66 C226.10,234.58 227.04,233.70 228.45,233.70 C229.67,233.70 230.99,234.68 230.80,236.93 C230.52,239.38 227.60,241.34 226.10,243.50Z" fill="#000"/>
<path d="M256.50,251.90 C255.00,249.74 252.08,247.78 251.80,245.33 C251.61,243.08 252.93,242.10 254.15,242.10 C255.56,242.10 256.50,242.98 256.50,244.06 C256.50,242.98 257.44,242.10 258.85,242.10 C260.07,242.10 261.39,243.08 261.20,245.33 C260.92,247.78 258.00,249.74 256.50,251.90Z" fill="#000"/>
<path d="M271.00,262.70 C269.50,260.54 266.58,258.58 266.30,256.13 C266.11,253.88 267.43,252.90 268.65,252.90 C270.06,252.90 271.00,253.78 271.00,254.86 C271.00,253.78 271.94,252.90 273.35,252.90 C274.57,252.90 275.89,253.88 275.70,256.13 C275.42,258.58 272.50,260.54 271.00,262.70Z" fill="#000"/>
<path d="M326.00,259.20 C324.50,257.04 321.58,255.08 321.30,252.63 C321.11,250.38 322.43,249.40 323.65,249.40 C325.06,249.40 326.00,250.28 326.00,251.36 C326.00,250.28 326.94,249.40 328.35,249.40 C329.57,249.40 330.89,250.38 330.70,252.63 C330.42,255.08 327.50,257.04 326.00,259.20Z" fill="#000"/>
<path d="M380.20,261.50 C378.70,259.34 375.78,257.38 375.50,254.93 C375.31,252.68 376.63,251.70 377.85,251.70 C379.26,251.70 380.20,252.58 380.20,253.66 C380.20,252.58 381.14,251.70 382.55,251.70 C383.77,251.70 385.09,252.68 384.90,254.93 C384.62,257.38 381.70,259.34 380.20,261.50Z" fill="#000"/>
<path d="M453.60,257.90 C452.10,255.74 449.18,253.78 448.90,251.33 C448.71,249.08 450.03,248.10 451.25,248.10 C452.66,248.10 453.60,248.98 453.60,250.06 C453.60,248.98 454.54,248.10 455.95,248.10 C457.17,248.10 458.49,249.08 458.30,251.33 C458.02,253.78 455.10,255.74 453.60,257.90Z" fill="#000"/>
<path d="M492.50,263.10 C491.00,260.94 488.08,258.98 487.80,256.53 C487.61,254.28 488.93,253.30 490.15,253.30 C491.56,253.30 492.50,254.18 492.50,255.26 C492.50,254.18 493.44,253.30 494.85,253.30 C496.07,253.30 497.39,254.28 497.20,256.53 C496.92,258.98 494.00,260.94 492.50,263.10Z" fill="#000"/>
<circle cx="197.70" cy="193.00" r="3.8" fill="#000"/>
<circle cx="356.30" cy="205.40" r="3.8" fill="#000"/>
<circle cx="423.50" cy="203.80" r="3.8" fill="#000"/>
<circle cx="197.70" cy="237.80" r="3.8" fill="#000"/>
<circle cx="226.20" cy="250.60" r="3.8" fill="#000"/>
<circle cx="353.00" cy="249.90" r="3.8" fill="#000"/>
<circle cx="432.00" cy="251.60" r="3.8" fill="#000"/>
<circle cx="198.20" cy="280.50" r="3.8" fill="#000"/>
<circle cx="235.20" cy="295.90" r="3.8" fill="#000"/>
<circle cx="354.20" cy="294.80" r="3.8" fill="#000"/>
<circle cx="429.30" cy="298.20" r="3.8" fill="#000"/>
<circle cx="196.30" cy="323.20" r="3.8" fill="#000"/>
<circle cx="233.00" cy="342.70" r="3.8" fill="#000"/>
<circle cx="353.80" cy="339.80" r="3.8" fill="#000"/>
<circle cx="425.00" cy="341.60" r="3.8" fill="#000"/>
<circle cx="196.70" cy="371.20" r="3.8" fill="#000"/>
<circle cx="232.10" cy="390.40" r="3.8" fill="#000"/>
<circle cx="351.30" cy="384.30" r="3.8" fill="#000"/>
<circle cx="424.30" cy="385.00" r="3.8" fill="#000"/>
<rect x="218.6" y="14.7" width="177.7" height="150.5" fill="#fff" stroke="#000" stroke-width="1.5"/>
<polyline points="219.5,45.00 220.5,45.05 221.5,45.09 222.5,45.13 223.5,45.17 224.5,45.20 225.5,45.22 226.5,45.24 227.5,45.26 228.5,45.27 229.5,45.28 230.5,45.29 231.5,45.29 232.5,45.30 233.5,45.30 234.5,45.30 235.5,45.29 236.5,45.27 237.5,45.24 238.5,45.19 239.5,45.14 240.5,45.09 241.5,45.02 242.5,44.96 243.5,44.89 244.5,44.82 245.5,44.76 246.5,44.69 247.5,44.64 248.5,44.58 249.5,44.54 250.5,44.51 251.5,44.48 252.5,44.46 253.5,44.44 254.5,44.42 255.5,44.40 256.5,44.39 257.5,44.37 258.5,44.36 259.5,44.35 260.5,44.33 261.5,44.32 262.5,44.30 263.5,44.29 264.5,44.27 265.5,44.24 266.5,44.22 267.5,44.19 268.5,44.15 269.5,44.11 270.5,44.07 271.5,44.01 272.5,43.96 273.5,43.89 274.5,43.82 275.5,43.74 276.5,43.66 277.5,43.57 278.5,43.48 279.5,43.38 280.5,43.27 281.5,43.15 282.5,43.03 283.5,42.90 284.5,42.73 285.5,42.50 286.5,42.22 287.5,41.90 288.5,41.57 289.5,41.24 290.5,40.92 291.5,40.63 292.5,40.36 293.5,40.10 294.5,39.85 295.5,39.60 296.5,39.35 297.5,39.10 298.5,38.85 299.5,38.58 300.5,38.30 301.5,37.97 302.5,37.64 303.5,37.33 304.5,37.09 305.5,36.93 306.5,36.78 307.5,36.65 308.5,36.52 309.5,36.41 310.5,36.32 311.5,36.25 312.5,36.21 313.5,36.20 314.5,36.27 315.5,36.43 316.5,36.67 317.5,36.97 318.5,37.30 319.5,37.65 320.5,38.01 321.5,38.34 322.5,38.66 323.5,39.01 324.5,39.38 325.5,39.76 326.5,40.15 327.5,40.53 328.5,40.90 329.5,41.24 330.5,41.55 331.5,41.86 332.5,42.16 333.5,42.46 334.5,42.74 335.5,43.01 336.5,43.26 337.5,43.49 338.5,43.70 339.5,43.91 340.5,44.12 341.5,44.33 342.5,44.53 343.5,44.70 344.5,44.85 345.5,44.95 346.5,45.00 347.5,44.99 348.5,44.97 349.5,44.93 350.5,44.88 351.5,44.82 352.5,44.77 353.5,44.73 354.5,44.71 355.5,44.70 356.5,44.72 357.5,44.76 358.5,44.80 359.5,44.86 360.5,44.91 361.5,44.95 362.5,44.99 363.5,45.00 364.5,44.99 365.5,44.96 366.5,44.92 367.5,44.87 368.5,44.81 369.5,44.76 370.5,44.73 371.5,44.70 372.5,44.71 373.5,44.78 374.5,44.92 375.5,45.09 376.5,45.28 377.5,45.48 378.5,45.66 379.5,45.81 380.5,45.92 381.5,46.00 382.5,46.09 383.5,46.17 384.5,46.24 385.5,46.30 386.5,46.35 387.5,46.39 388.5,46.40 389.5,46.38 390.5,46.32 391.5,46.22 392.5,46.08 393.5,45.91 394.5,45.72 395.5,45.51" fill="none" stroke="#a35fe0" stroke-width="1.6" stroke-linejoin="round"/>
<polyline points="219.5,70.90 220.5,70.84 221.5,70.79 222.5,70.74 223.5,70.69 224.5,70.64 225.5,70.60 226.5,70.56 227.5,70.52 228.5,70.49 229.5,70.46 230.5,70.44 231.5,70.42 232.5,70.41 233.5,70.40 234.5,70.40 235.5,70.40 236.5,70.41 237.5,70.43 238.5,70.45 239.5,70.47 240.5,70.49 241.5,70.52 242.5,70.55 243.5,70.58 244.5,70.60 245.5,70.63 246.5,70.65 247.5,70.67 248.5,70.69 249.5,70.70 250.5,70.70 251.5,70.69 252.5,70.66 253.5,70.61 254.5,70.55 255.5,70.47 256.5,70.38 257.5,70.29 258.5,70.19 259.5,70.09 260.5,69.99 261.5,69.90 262.5,69.81 263.5,69.74 264.5,69.67 265.5,69.63 266.5,69.60 267.5,69.60 268.5,69.60 269.5,69.60 270.5,69.60 271.5,69.60 272.5,69.60 273.5,69.60 274.5,69.60 275.5,69.60 276.5,69.60 277.5,69.60 278.5,69.60 279.5,69.60 280.5,69.60 281.5,69.60 282.5,69.60 283.5,69.60 284.5,69.58 285.5,69.52 286.5,69.43 287.5,69.31 288.5,69.17 289.5,69.02 290.5,68.87 291.5,68.72 292.5,68.55 293.5,68.33 294.5,68.09 295.5,67.84 296.5,67.57 297.5,67.31 298.5,67.07 299.5,66.86 300.5,66.66 301.5,66.46 302.5,66.26 303.5,66.11 304.5,66.01 305.5,66.00 306.5,66.03 307.5,66.07 308.5,66.13 309.5,66.20 310.5,66.28 311.5,66.36 312.5,66.44 313.5,66.51 314.5,66.57 315.5,66.63 316.5,66.69 317.5,66.76 318.5,66.83 319.5,66.90 320.5,66.99 321.5,67.08 322.5,67.19 323.5,67.33 324.5,67.48 325.5,67.66 326.5,67.84 327.5,68.03 328.5,68.22 329.5,68.41 330.5,68.59 331.5,68.78 332.5,68.98 333.5,69.19 334.5,69.39 335.5,69.59 336.5,69.78 337.5,69.95 338.5,70.10 339.5,70.24 340.5,70.39 341.5,70.54 342.5,70.67 343.5,70.79 344.5,70.89 345.5,70.96 346.5,71.00 347.5,70.98 348.5,70.90 349.5,70.78 350.5,70.63 351.5,70.47 352.5,70.32 353.5,70.20 354.5,70.12 355.5,70.10 356.5,70.13 357.5,70.17 358.5,70.24 359.5,70.31 360.5,70.38 361.5,70.44 362.5,70.48 363.5,70.50 364.5,70.49 365.5,70.45 366.5,70.39 367.5,70.32 368.5,70.25 369.5,70.19 370.5,70.13 371.5,70.10 372.5,70.11 373.5,70.16 374.5,70.26 375.5,70.38 376.5,70.52 377.5,70.67 378.5,70.81 379.5,70.93 380.5,71.02 381.5,71.10 382.5,71.18 383.5,71.26 384.5,71.33 385.5,71.40 386.5,71.45 387.5,71.49 388.5,71.50 389.5,71.49 390.5,71.46 391.5,71.42 392.5,71.35 393.5,71.27 394.5,71.18 395.5,71.06" fill="none" stroke="#1aa650" stroke-width="1.6" stroke-linejoin="round"/>
<polyline points="219.5,94.50 220.5,94.60 221.5,94.70 222.5,94.79 223.5,94.88 224.5,94.97 225.5,95.04 226.5,95.11 227.5,95.18 228.5,95.24 229.5,95.28 230.5,95.33 231.5,95.36 232.5,95.38 233.5,95.40 234.5,95.40 235.5,95.40 236.5,95.39 237.5,95.37 238.5,95.35 239.5,95.33 240.5,95.30 241.5,95.27 242.5,95.24 243.5,95.20 244.5,95.16 245.5,95.12 246.5,95.08 247.5,95.04 248.5,94.99 249.5,94.95 250.5,94.91 251.5,94.86 252.5,94.80 253.5,94.73 254.5,94.65 255.5,94.57 256.5,94.49 257.5,94.41 258.5,94.34 259.5,94.28 260.5,94.23 261.5,94.21 262.5,94.20 263.5,94.23 264.5,94.28 265.5,94.35 266.5,94.45 267.5,94.56 268.5,94.69 269.5,94.83 270.5,94.97 271.5,95.12 272.5,95.28 273.5,95.43 274.5,95.57 275.5,95.71 276.5,95.84 277.5,95.95 278.5,96.05 279.5,96.12 280.5,96.17 281.5,96.20 282.5,96.19 283.5,96.12 284.5,96.01 285.5,95.87 286.5,95.70 287.5,95.51 288.5,95.32 289.5,95.13 290.5,94.95 291.5,94.78 292.5,94.65 293.5,94.55 294.5,94.50 295.5,94.51 296.5,94.55 297.5,94.63 298.5,94.73 299.5,94.85 300.5,94.97 301.5,95.08 302.5,95.18 303.5,95.25 304.5,95.29 305.5,95.30 306.5,95.28 307.5,95.24 308.5,95.19 309.5,95.12 310.5,95.05 311.5,94.98 312.5,94.91 313.5,94.84 314.5,94.79 315.5,94.74 316.5,94.71 317.5,94.70 318.5,94.72 319.5,94.77 320.5,94.84 321.5,94.94 322.5,95.05 323.5,95.18 324.5,95.31 325.5,95.44 326.5,95.57 327.5,95.69 328.5,95.79 329.5,95.87 330.5,95.93 331.5,95.98 332.5,96.02 333.5,96.06 334.5,96.09 335.5,96.13 336.5,96.16 337.5,96.19 338.5,96.22 339.5,96.26 340.5,96.30 341.5,96.34 342.5,96.39 343.5,96.46 344.5,96.54 345.5,96.65 346.5,96.76 347.5,96.88 348.5,97.00 349.5,97.12 350.5,97.23 351.5,97.33 352.5,97.41 353.5,97.46 354.5,97.50 355.5,97.50 356.5,97.49 357.5,97.47 358.5,97.45 359.5,97.41 360.5,97.38 361.5,97.34 362.5,97.29 363.5,97.25 364.5,97.21 365.5,97.16 366.5,97.12 367.5,97.09 368.5,97.05 369.5,97.03 370.5,97.01 371.5,97.00 372.5,97.00 373.5,97.00 374.5,97.00 375.5,97.00 376.5,97.00 377.5,97.00 378.5,97.00 379.5,97.00 380.5,97.00 381.5,97.00 382.5,97.00 383.5,97.00 384.5,97.00 385.5,97.00 386.5,97.00 387.5,97.00 388.5,97.00 389.5,96.99 390.5,96.97 391.5,96.93 392.5,96.89 393.5,96.84 394.5,96.78 395.5,96.73" fill="none" stroke="#1060e0" stroke-width="1.6" stroke-linejoin="round"/>
<polyline points="219.5,120.90 220.5,120.92 221.5,120.94 222.5,120.96 223.5,120.98 224.5,121.00 225.5,121.02 226.5,121.04 227.5,121.06 228.5,121.08 229.5,121.10 230.5,121.12 231.5,121.14 232.5,121.16 233.5,121.18 234.5,121.20 235.5,121.22 236.5,121.24 237.5,121.26 238.5,121.28 239.5,121.30 240.5,121.32 241.5,121.34 242.5,121.36 243.5,121.38 244.5,121.40 245.5,121.42 246.5,121.45 247.5,121.47 248.5,121.49 249.5,121.51 250.5,121.53 251.5,121.55 252.5,121.57 253.5,121.59 254.5,121.61 255.5,121.64 256.5,121.66 257.5,121.69 258.5,121.71 259.5,121.74 260.5,121.77 261.5,121.80 262.5,121.82 263.5,121.85 264.5,121.88 265.5,121.91 266.5,121.94 267.5,121.97 268.5,121.99 269.5,122.02 270.5,122.05 271.5,122.07 272.5,122.09 273.5,122.11 274.5,122.13 275.5,122.15 276.5,122.16 277.5,122.18 278.5,122.19 279.5,122.19 280.5,122.20 281.5,122.20 282.5,122.17 283.5,122.08 284.5,121.95 285.5,121.80 286.5,121.62 287.5,121.44 288.5,121.27 289.5,121.12 290.5,121.00 291.5,120.92 292.5,120.90 293.5,120.91 294.5,120.93 295.5,120.97 296.5,121.02 297.5,121.07 298.5,121.13 299.5,121.19 300.5,121.25 301.5,121.31 302.5,121.37 303.5,121.43 304.5,121.48 305.5,121.52 306.5,121.56 307.5,121.61 308.5,121.66 309.5,121.71 310.5,121.75 311.5,121.80 312.5,121.85 313.5,121.89 314.5,121.93 315.5,121.97 316.5,122.01 317.5,122.04 318.5,122.06 319.5,122.08 320.5,122.09 321.5,122.10 322.5,122.09 323.5,122.06 324.5,122.00 325.5,121.92 326.5,121.83 327.5,121.72 328.5,121.60 329.5,121.48 330.5,121.35 331.5,121.21 332.5,121.09 333.5,120.96 334.5,120.85 335.5,120.74 336.5,120.65 337.5,120.58 338.5,120.53 339.5,120.50 340.5,120.51 341.5,120.58 342.5,120.70 343.5,120.87 344.5,121.05 345.5,121.25 346.5,121.43 347.5,121.60 348.5,121.72 349.5,121.79 350.5,121.80 351.5,121.80 352.5,121.80 353.5,121.80 354.5,121.80 355.5,121.80 356.5,121.80 357.5,121.80 358.5,121.80 359.5,121.80 360.5,121.80 361.5,121.80 362.5,121.80 363.5,121.80 364.5,121.80 365.5,121.80 366.5,121.80 367.5,121.80 368.5,121.80 369.5,121.80 370.5,121.80 371.5,121.80 372.5,121.80 373.5,121.81 374.5,121.82 375.5,121.83 376.5,121.85 377.5,121.88 378.5,121.90 379.5,121.93 380.5,121.96 381.5,121.98 382.5,122.01 383.5,122.03 384.5,122.05 385.5,122.07 386.5,122.09 387.5,122.10 388.5,122.10 389.5,122.10 390.5,122.10 391.5,122.10 392.5,122.10 393.5,122.10 394.5,122.10 395.5,122.10" fill="none" stroke="#f0282e" stroke-width="1.6" stroke-linejoin="round"/>
<polyline points="219.5,145.50 220.5,145.74 221.5,145.95 222.5,146.15 223.5,146.32 224.5,146.48 225.5,146.61 226.5,146.74 227.5,146.84 228.5,146.94 229.5,147.01 230.5,147.08 231.5,147.14 232.5,147.18 233.5,147.22 234.5,147.25 235.5,147.27 236.5,147.28 237.5,147.29 238.5,147.30 239.5,147.30 240.5,147.30 241.5,147.30 242.5,147.21 243.5,147.03 244.5,146.78 245.5,146.49 246.5,146.19 247.5,145.91 248.5,145.69 249.5,145.54 250.5,145.50 251.5,145.53 252.5,145.61 253.5,145.71 254.5,145.84 255.5,145.98 256.5,146.13 257.5,146.29 258.5,146.44 259.5,146.57 260.5,146.68 261.5,146.76 262.5,146.80 263.5,146.80 264.5,146.79 265.5,146.78 266.5,146.76 267.5,146.74 268.5,146.71 269.5,146.68 270.5,146.65 271.5,146.62 272.5,146.59 273.5,146.56 274.5,146.53 275.5,146.50 276.5,146.47 277.5,146.45 278.5,146.43 279.5,146.41 280.5,146.40 281.5,146.40 282.5,146.43 283.5,146.53 284.5,146.66 285.5,146.83 286.5,147.02 287.5,147.22 288.5,147.40 289.5,147.57 290.5,147.70 291.5,147.78 292.5,147.80 293.5,147.77 294.5,147.70 295.5,147.59 296.5,147.47 297.5,147.32 298.5,147.17 299.5,147.02 300.5,146.87 301.5,146.74 302.5,146.63 303.5,146.55 304.5,146.51 305.5,146.50 306.5,146.53 307.5,146.57 308.5,146.64 309.5,146.71 310.5,146.80 311.5,146.90 312.5,147.01 313.5,147.12 314.5,147.22 315.5,147.33 316.5,147.42 317.5,147.51 318.5,147.58 319.5,147.64 320.5,147.68 321.5,147.70 322.5,147.70 323.5,147.69 324.5,147.68 325.5,147.66 326.5,147.64 327.5,147.61 328.5,147.58 329.5,147.54 330.5,147.51 331.5,147.47 332.5,147.43 333.5,147.39 334.5,147.35 335.5,147.31 336.5,147.27 337.5,147.24 338.5,147.20 339.5,147.16 340.5,147.12 341.5,147.07 342.5,147.02 343.5,146.96 344.5,146.90 345.5,146.85 346.5,146.79 347.5,146.74 348.5,146.69 349.5,146.64 350.5,146.60 351.5,146.56 352.5,146.53 353.5,146.51 354.5,146.50 355.5,146.50 356.5,146.52 357.5,146.55 358.5,146.59 359.5,146.65 360.5,146.71 361.5,146.79 362.5,146.87 363.5,146.95 364.5,147.05 365.5,147.14 366.5,147.23 367.5,147.33 368.5,147.42 369.5,147.51 370.5,147.59 371.5,147.66 372.5,147.74 373.5,147.81 374.5,147.90 375.5,147.98 376.5,148.07 377.5,148.16 378.5,148.24 379.5,148.32 380.5,148.39 381.5,148.44 382.5,148.48 383.5,148.50 384.5,148.50 385.5,148.47 386.5,148.42 387.5,148.34 388.5,148.24 389.5,148.12 390.5,147.98 391.5,147.82 392.5,147.64 393.5,147.44 394.5,147.24 395.5,147.02" fill="none" stroke="#404040" stroke-width="1.6" stroke-linejoin="round"/>
<polyline points="321.00,28.60 320.40,29.10 319.62,29.60 318.69,30.19 317.65,30.93 316.53,31.90 315.36,33.18 314.17,34.86 313.00,37.00 311.78,39.76 310.46,43.15 309.07,46.98 307.66,51.09 306.27,55.31 304.93,59.49 303.70,63.44 302.60,67.00 301.65,70.16 300.80,73.08 300.04,75.83 299.35,78.50 298.70,81.17 298.07,83.92 297.45,86.84 296.80,90.00 296.17,93.52 295.58,97.38 295.02,101.44 294.47,105.56 293.92,109.61 293.33,113.46 292.70,116.97 292.00,120.00 291.21,122.53 290.34,124.67 289.42,126.51 288.48,128.12 287.53,129.60 286.62,131.02 285.77,132.46 285.00,134.00 284.30,135.60 283.64,137.16 283.02,138.69 282.44,140.19 281.90,141.66 281.41,143.12 280.98,144.56 280.60,146.00 280.29,147.50 280.05,149.08 279.86,150.68 279.73,152.25 279.62,153.72 279.54,155.05 279.47,156.16 279.40,157.00" fill="none" stroke="#ff1a1a" stroke-width="1.8" stroke-dasharray="9,2,2.5,2"/>
<line x1="240.82" y1="162.6" x2="240.82" y2="165.2" stroke="#000" stroke-width="1.4"/>
<line x1="263.05" y1="162.6" x2="263.05" y2="165.2" stroke="#000" stroke-width="1.4"/>
<line x1="285.27" y1="162.6" x2="285.27" y2="165.2" stroke="#000" stroke-width="1.4"/>
<line x1="307.50" y1="162.6" x2="307.50" y2="165.2" stroke="#000" stroke-width="1.4"/>
<line x1="329.73" y1="162.6" x2="329.73" y2="165.2" stroke="#000" stroke-width="1.4"/>
<line x1="351.95" y1="162.6" x2="351.95" y2="165.2" stroke="#000" stroke-width="1.4"/>
<line x1="374.18" y1="162.6" x2="374.18" y2="165.2" stroke="#000" stroke-width="1.4"/>
<text x="218.60" y="175.9" font-size="9.5" text-anchor="middle" fill="#222">17.0</text>
<text x="263.05" y="175.9" font-size="9.5" text-anchor="middle" fill="#222">17.5</text>
<text x="307.50" y="175.9" font-size="9.5" text-anchor="middle" fill="#222">18.0</text>
<text x="351.95" y="175.9" font-size="9.5" text-anchor="middle" fill="#222">18.5</text>
<text x="396.40" y="175.9" font-size="9.5" text-anchor="middle" fill="#222">19.0</text>
<text x="307.6" y="190.6" font-size="12.4" text-anchor="middle" fill="#111">2θ(°)</text>
<text transform="translate(211.9,94) rotate(-90)" x="0" y="0" font-size="9.7" text-anchor="middle" fill="#111" stroke="#111" stroke-width="0.12">Intensity(a.u)</text>
<text x="219.6" y="40.2" font-size="13.8" fill="#1a1a1a">Ce:Mn=1:3</text>
<text x="219.6" y="65.9" font-size="13.8" fill="#1a1a1a">Ce:Mn=1:2</text>
<text x="219.6" y="93.2" font-size="13.8" fill="#1a1a1a">Ce:Mn=1:1</text>
<text x="220.2" y="115.4" font-size="13.8" fill="#1a1a1a">Ce:Mn=2:1</text>
<text x="218.7" y="137.6" font-size="13.8" fill="#1a1a1a">Ce:Mn=3:1</text>
<path d="M340.00,31.80 C338.56,29.69 335.77,27.77 335.50,25.37 C335.32,23.16 336.58,22.20 337.75,22.20 C339.10,22.20 340.00,23.06 340.00,24.12 C340.00,23.06 340.90,22.20 342.25,22.20 C343.42,22.20 344.68,23.16 344.50,25.37 C344.23,27.77 341.44,29.69 340.00,31.80Z" fill="#000"/>
<text x="345" y="32.2" font-size="15" fill="#111">Mn<tspan font-size="12.3" dy="4.9" dx="0.8">3</tspan><tspan dy="-4.9" dx="0.3">O</tspan><tspan font-size="12.3" dy="4.9" dx="0.4">4</tspan></text>
<path d="M315.60,33.50 C314.13,31.56 311.28,29.80 311.00,27.60 C310.82,25.58 312.10,24.70 313.30,24.70 C314.68,24.70 315.60,25.49 315.60,26.46 C315.60,25.49 316.52,24.70 317.90,24.70 C319.10,24.70 320.38,25.58 320.20,27.60 C319.92,29.80 317.07,31.56 315.60,33.50Z" fill="#000"/>
<path d="M304.30,60.70 C302.96,58.90 300.35,57.26 300.10,55.21 C299.93,53.32 301.11,52.50 302.20,52.50 C303.46,52.50 304.30,53.24 304.30,54.14 C304.30,53.24 305.14,52.50 306.40,52.50 C307.49,52.50 308.67,53.32 308.50,55.21 C308.25,57.26 305.64,58.90 304.30,60.70Z" fill="#000"/>
</svg></body></html>
